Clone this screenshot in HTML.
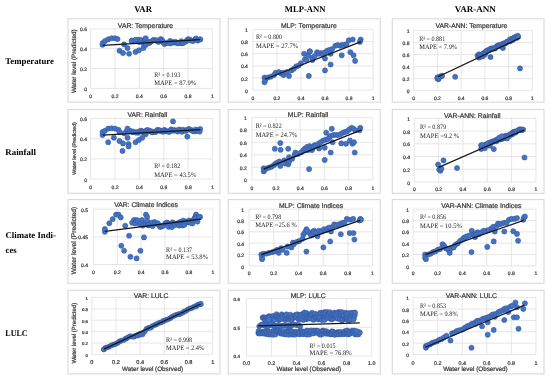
<!DOCTYPE html><html><head><meta charset="utf-8"><style>html,body{margin:0;padding:0;background:#fff;width:550px;height:379px;overflow:hidden}svg{display:block}text{text-rendering:geometricPrecision}.s{font-family:"Liberation Sans",Arial,sans-serif;fill:#303030;stroke:#404040;stroke-width:0.22px}.t{font-family:"Liberation Serif","Times New Roman",serif;fill:#1a1a1a;text-rendering:geometricPrecision}.h{font-family:"Liberation Serif","Times New Roman",serif;font-weight:bold;fill:#000;font-size:8.8px}</style></head><body>
<svg width="550" height="379" viewBox="0 0 550 379">
<text class="h" x="134.2" y="11.7" textLength="17.8" lengthAdjust="spacingAndGlyphs">VAR</text>
<text class="h" x="284.8" y="11.7" textLength="40.7" lengthAdjust="spacingAndGlyphs">MLP-ANN</text>
<text class="h" x="454.8" y="11.7" textLength="41.1" lengthAdjust="spacingAndGlyphs">VAR-ANN</text>
<text class="h" x="5.3" y="64.0" textLength="48.7" lengthAdjust="spacingAndGlyphs">Temperature</text>
<text class="h" x="5.3" y="154.7" textLength="30.6" lengthAdjust="spacingAndGlyphs">Rainfall</text>
<text class="h" x="5.5" y="237.8" textLength="50.5" lengthAdjust="spacingAndGlyphs">Climate Indi-</text>
<text class="h" x="5.5" y="252.7" textLength="11.2" lengthAdjust="spacingAndGlyphs">ces</text>
<text class="h" x="5.3" y="335.5" textLength="22.4" lengthAdjust="spacingAndGlyphs">LULC</text>
<rect x="68.0" y="18.8" width="151.9" height="83.4" fill="#fff" stroke="#d9d9d9" stroke-width="1.1"/>
<line x1="114.96" y1="28.80" x2="114.96" y2="88.40" stroke="#e0e0e0" stroke-width="0.8"/>
<line x1="139.32" y1="28.80" x2="139.32" y2="88.40" stroke="#e0e0e0" stroke-width="0.8"/>
<line x1="163.68" y1="28.80" x2="163.68" y2="88.40" stroke="#e0e0e0" stroke-width="0.8"/>
<line x1="188.04" y1="28.80" x2="188.04" y2="88.40" stroke="#e0e0e0" stroke-width="0.8"/>
<line x1="212.40" y1="28.80" x2="212.40" y2="88.40" stroke="#e0e0e0" stroke-width="0.8"/>
<line x1="90.60" y1="88.40" x2="212.40" y2="88.40" stroke="#e0e0e0" stroke-width="0.8"/>
<line x1="90.60" y1="68.53" x2="212.40" y2="68.53" stroke="#e0e0e0" stroke-width="0.8"/>
<line x1="90.60" y1="48.67" x2="212.40" y2="48.67" stroke="#e0e0e0" stroke-width="0.8"/>
<line x1="90.60" y1="28.80" x2="212.40" y2="28.80" stroke="#e0e0e0" stroke-width="0.8"/>
<line x1="90.60" y1="28.80" x2="90.60" y2="88.40" stroke="#e0e0e0" stroke-width="0.8"/>
<text class="s" x="87.00" y="91.00" font-size="5.0" text-anchor="end">0</text>
<text class="s" x="87.00" y="71.13" font-size="5.0" text-anchor="end">0.2</text>
<text class="s" x="87.00" y="51.27" font-size="5.0" text-anchor="end">0.4</text>
<text class="s" x="87.00" y="31.40" font-size="5.0" text-anchor="end">0.6</text>
<text class="s" x="90.60" y="98.20" font-size="5.0" text-anchor="middle">0</text>
<text class="s" x="114.96" y="98.20" font-size="5.0" text-anchor="middle">0.2</text>
<text class="s" x="139.32" y="98.20" font-size="5.0" text-anchor="middle">0.4</text>
<text class="s" x="163.68" y="98.20" font-size="5.0" text-anchor="middle">0.6</text>
<text class="s" x="188.04" y="98.20" font-size="5.0" text-anchor="middle">0.8</text>
<text class="s" x="212.40" y="98.20" font-size="5.0" text-anchor="middle">1</text>
<text class="s" x="145.50" y="27.60" font-size="6.8" text-anchor="middle" stroke="#595959" stroke-width="0.18">VAR: Temperature</text>
<g fill="#4472C4" stroke="#34599f" stroke-width="0.6">
<circle cx="131.6" cy="40.9" r="2.55"/>
<circle cx="133.8" cy="41.3" r="2.55"/>
<circle cx="134.8" cy="40.8" r="2.55"/>
<circle cx="135.9" cy="41.1" r="2.55"/>
<circle cx="138.2" cy="39.9" r="2.55"/>
<circle cx="139.0" cy="41.9" r="2.55"/>
<circle cx="140.5" cy="39.8" r="2.55"/>
<circle cx="143.0" cy="43.0" r="2.55"/>
<circle cx="145.0" cy="39.2" r="2.55"/>
<circle cx="146.1" cy="40.6" r="2.55"/>
<circle cx="147.0" cy="43.1" r="2.55"/>
<circle cx="149.1" cy="43.0" r="2.55"/>
<circle cx="150.2" cy="42.2" r="2.55"/>
<circle cx="151.5" cy="41.3" r="2.55"/>
<circle cx="153.7" cy="39.7" r="2.55"/>
<circle cx="155.4" cy="40.5" r="2.55"/>
<circle cx="156.9" cy="40.4" r="2.55"/>
<circle cx="158.5" cy="42.0" r="2.55"/>
<circle cx="160.8" cy="39.0" r="2.55"/>
<circle cx="162.2" cy="40.3" r="2.55"/>
<circle cx="163.0" cy="42.2" r="2.55"/>
<circle cx="164.5" cy="44.1" r="2.55"/>
<circle cx="166.8" cy="42.7" r="2.55"/>
<circle cx="168.5" cy="42.8" r="2.55"/>
<circle cx="170.2" cy="40.9" r="2.55"/>
<circle cx="170.4" cy="43.5" r="2.55"/>
<circle cx="173.3" cy="42.4" r="2.55"/>
<circle cx="175.0" cy="42.7" r="2.55"/>
<circle cx="175.3" cy="41.8" r="2.55"/>
<circle cx="177.9" cy="43.3" r="2.55"/>
<circle cx="178.5" cy="43.0" r="2.55"/>
<circle cx="181.3" cy="41.2" r="2.55"/>
<circle cx="181.7" cy="43.4" r="2.55"/>
<circle cx="183.2" cy="43.0" r="2.55"/>
<circle cx="185.8" cy="41.5" r="2.55"/>
<circle cx="187.1" cy="40.3" r="2.55"/>
<circle cx="188.1" cy="39.2" r="2.55"/>
<circle cx="189.6" cy="39.5" r="2.55"/>
<circle cx="191.1" cy="40.5" r="2.55"/>
<circle cx="192.9" cy="41.1" r="2.55"/>
<circle cx="195.6" cy="38.9" r="2.55"/>
<circle cx="196.2" cy="38.5" r="2.55"/>
<circle cx="197.6" cy="40.6" r="2.55"/>
<circle cx="200.1" cy="39.5" r="2.55"/>
<circle cx="102.5" cy="44.8" r="2.55"/>
<circle cx="102.7" cy="43.0" r="2.55"/>
<circle cx="105.0" cy="41.0" r="2.55"/>
<circle cx="108.2" cy="39.4" r="2.55"/>
<circle cx="111.6" cy="38.2" r="2.55"/>
<circle cx="115.0" cy="38.2" r="2.55"/>
<circle cx="117.5" cy="39.1" r="2.55"/>
<circle cx="124.1" cy="44.4" r="2.55"/>
<circle cx="127.5" cy="48.0" r="2.55"/>
<circle cx="119.5" cy="50.7" r="2.55"/>
<circle cx="123.0" cy="53.0" r="2.55"/>
<circle cx="129.1" cy="53.7" r="2.55"/>
<circle cx="135.5" cy="51.9" r="2.55"/>
<circle cx="138.9" cy="50.3" r="2.55"/>
<circle cx="143.4" cy="48.0" r="2.55"/>
<circle cx="145.7" cy="45.0" r="2.55"/>
<circle cx="200.2" cy="39.4" r="2.55"/>
<circle cx="132.0" cy="40.5" r="2.55"/>
<circle cx="135.5" cy="39.8" r="2.55"/>
<circle cx="145.7" cy="38.2" r="2.55"/>
</g>
<line x1="102.78" y1="45.49" x2="200.22" y2="39.73" stroke="#151515" stroke-width="1.25"/>
<text class="t" x="154.20" y="76.60" font-size="6.8" textLength="26" lengthAdjust="spacingAndGlyphs">R² = 0.193</text>
<text class="t" x="154.20" y="85.00" font-size="6.8" textLength="42.0" lengthAdjust="spacingAndGlyphs">MAPE = 87.9%</text>
<text class="s" transform="translate(73.70,61.20) rotate(-90)" font-size="6.3" text-anchor="middle" dy="2.27">Water level (Predicted)</text>
<rect x="228.2" y="18.8" width="152.0" height="83.4" fill="#fff" stroke="#d9d9d9" stroke-width="1.1"/>
<line x1="276.94" y1="29.40" x2="276.94" y2="90.20" stroke="#e0e0e0" stroke-width="0.8"/>
<line x1="300.98" y1="29.40" x2="300.98" y2="90.20" stroke="#e0e0e0" stroke-width="0.8"/>
<line x1="325.02" y1="29.40" x2="325.02" y2="90.20" stroke="#e0e0e0" stroke-width="0.8"/>
<line x1="349.06" y1="29.40" x2="349.06" y2="90.20" stroke="#e0e0e0" stroke-width="0.8"/>
<line x1="373.10" y1="29.40" x2="373.10" y2="90.20" stroke="#e0e0e0" stroke-width="0.8"/>
<line x1="252.90" y1="90.20" x2="373.10" y2="90.20" stroke="#e0e0e0" stroke-width="0.8"/>
<line x1="252.90" y1="78.04" x2="373.10" y2="78.04" stroke="#e0e0e0" stroke-width="0.8"/>
<line x1="252.90" y1="65.88" x2="373.10" y2="65.88" stroke="#e0e0e0" stroke-width="0.8"/>
<line x1="252.90" y1="53.72" x2="373.10" y2="53.72" stroke="#e0e0e0" stroke-width="0.8"/>
<line x1="252.90" y1="41.56" x2="373.10" y2="41.56" stroke="#e0e0e0" stroke-width="0.8"/>
<line x1="252.90" y1="29.40" x2="373.10" y2="29.40" stroke="#e0e0e0" stroke-width="0.8"/>
<line x1="252.90" y1="29.40" x2="252.90" y2="90.20" stroke="#e0e0e0" stroke-width="0.8"/>
<text class="s" x="247.90" y="92.80" font-size="5.0" text-anchor="end">0</text>
<text class="s" x="247.90" y="80.64" font-size="5.0" text-anchor="end">0.2</text>
<text class="s" x="247.90" y="68.48" font-size="5.0" text-anchor="end">0.4</text>
<text class="s" x="247.90" y="56.32" font-size="5.0" text-anchor="end">0.6</text>
<text class="s" x="247.90" y="44.16" font-size="5.0" text-anchor="end">0.8</text>
<text class="s" x="247.90" y="32.00" font-size="5.0" text-anchor="end">1</text>
<text class="s" x="252.90" y="99.60" font-size="5.0" text-anchor="middle">0</text>
<text class="s" x="276.94" y="99.60" font-size="5.0" text-anchor="middle">0.2</text>
<text class="s" x="300.98" y="99.60" font-size="5.0" text-anchor="middle">0.4</text>
<text class="s" x="325.02" y="99.60" font-size="5.0" text-anchor="middle">0.6</text>
<text class="s" x="349.06" y="99.60" font-size="5.0" text-anchor="middle">0.8</text>
<text class="s" x="373.10" y="99.60" font-size="5.0" text-anchor="middle">1</text>
<text class="s" x="308.80" y="27.60" font-size="6.8" text-anchor="middle" stroke="#595959" stroke-width="0.18">MLP: Temperature</text>
<g fill="#4472C4" stroke="#34599f" stroke-width="0.6">
<circle cx="264.5" cy="77.5" r="2.55"/>
<circle cx="264.5" cy="82.2" r="2.55"/>
<circle cx="265.3" cy="79.9" r="2.55"/>
<circle cx="267.7" cy="77.5" r="2.55"/>
<circle cx="270.8" cy="76.7" r="2.55"/>
<circle cx="275.6" cy="72.7" r="2.55"/>
<circle cx="278.7" cy="72.0" r="2.55"/>
<circle cx="281.1" cy="73.5" r="2.55"/>
<circle cx="283.5" cy="75.1" r="2.55"/>
<circle cx="282.7" cy="72.7" r="2.55"/>
<circle cx="286.7" cy="72.0" r="2.55"/>
<circle cx="289.0" cy="75.9" r="2.55"/>
<circle cx="291.4" cy="70.4" r="2.55"/>
<circle cx="293.8" cy="68.8" r="2.55"/>
<circle cx="296.2" cy="66.4" r="2.55"/>
<circle cx="300.9" cy="63.2" r="2.55"/>
<circle cx="304.1" cy="53.7" r="2.55"/>
<circle cx="304.9" cy="59.3" r="2.55"/>
<circle cx="306.4" cy="60.1" r="2.55"/>
<circle cx="308.0" cy="55.3" r="2.55"/>
<circle cx="309.6" cy="51.4" r="2.55"/>
<circle cx="308.8" cy="75.9" r="2.55"/>
<circle cx="312.0" cy="57.7" r="2.55"/>
<circle cx="298.5" cy="65.6" r="2.55"/>
<circle cx="274.0" cy="75.1" r="2.55"/>
<circle cx="310.0" cy="51.4" r="2.55"/>
<circle cx="312.4" cy="60.1" r="2.55"/>
<circle cx="317.1" cy="52.2" r="2.55"/>
<circle cx="318.7" cy="53.7" r="2.55"/>
<circle cx="321.1" cy="53.0" r="2.55"/>
<circle cx="322.7" cy="54.5" r="2.55"/>
<circle cx="325.0" cy="52.2" r="2.55"/>
<circle cx="327.4" cy="50.6" r="2.55"/>
<circle cx="329.8" cy="49.8" r="2.55"/>
<circle cx="330.6" cy="53.7" r="2.55"/>
<circle cx="332.2" cy="49.0" r="2.55"/>
<circle cx="335.3" cy="45.8" r="2.55"/>
<circle cx="337.7" cy="45.0" r="2.55"/>
<circle cx="340.1" cy="45.8" r="2.55"/>
<circle cx="341.7" cy="45.0" r="2.55"/>
<circle cx="344.0" cy="45.0" r="2.55"/>
<circle cx="346.4" cy="44.2" r="2.55"/>
<circle cx="325.0" cy="58.5" r="2.55"/>
<circle cx="325.0" cy="70.4" r="2.55"/>
<circle cx="330.6" cy="64.5" r="2.55"/>
<circle cx="341.7" cy="55.3" r="2.55"/>
<circle cx="348.8" cy="40.3" r="2.55"/>
<circle cx="350.4" cy="52.2" r="2.55"/>
<circle cx="353.5" cy="55.3" r="2.55"/>
<circle cx="355.1" cy="60.9" r="2.55"/>
<circle cx="352.7" cy="39.5" r="2.55"/>
<circle cx="360.7" cy="39.5" r="2.55"/>
<circle cx="359.9" cy="41.9" r="2.55"/>
<circle cx="314.7" cy="56.1" r="2.55"/>
</g>
<line x1="264.92" y1="79.26" x2="361.08" y2="41.56" stroke="#151515" stroke-width="1.25"/>
<text class="t" x="256.00" y="39.30" font-size="6.8" textLength="26" lengthAdjust="spacingAndGlyphs">R² = 0.800</text>
<text class="t" x="256.00" y="47.90" font-size="6.8" textLength="42.3" lengthAdjust="spacingAndGlyphs">MAPE = 27.7%</text>
<rect x="392.3" y="18.8" width="151.7" height="83.4" fill="#fff" stroke="#d9d9d9" stroke-width="1.1"/>
<line x1="437.36" y1="30.60" x2="437.36" y2="90.60" stroke="#e0e0e0" stroke-width="0.8"/>
<line x1="461.12" y1="30.60" x2="461.12" y2="90.60" stroke="#e0e0e0" stroke-width="0.8"/>
<line x1="484.88" y1="30.60" x2="484.88" y2="90.60" stroke="#e0e0e0" stroke-width="0.8"/>
<line x1="508.64" y1="30.60" x2="508.64" y2="90.60" stroke="#e0e0e0" stroke-width="0.8"/>
<line x1="532.40" y1="30.60" x2="532.40" y2="90.60" stroke="#e0e0e0" stroke-width="0.8"/>
<line x1="413.60" y1="90.60" x2="532.40" y2="90.60" stroke="#e0e0e0" stroke-width="0.8"/>
<line x1="413.60" y1="78.60" x2="532.40" y2="78.60" stroke="#e0e0e0" stroke-width="0.8"/>
<line x1="413.60" y1="66.60" x2="532.40" y2="66.60" stroke="#e0e0e0" stroke-width="0.8"/>
<line x1="413.60" y1="54.60" x2="532.40" y2="54.60" stroke="#e0e0e0" stroke-width="0.8"/>
<line x1="413.60" y1="42.60" x2="532.40" y2="42.60" stroke="#e0e0e0" stroke-width="0.8"/>
<line x1="413.60" y1="30.60" x2="532.40" y2="30.60" stroke="#e0e0e0" stroke-width="0.8"/>
<line x1="413.60" y1="30.60" x2="413.60" y2="90.60" stroke="#e0e0e0" stroke-width="0.8"/>
<text class="s" x="409.50" y="93.20" font-size="5.0" text-anchor="end">0</text>
<text class="s" x="409.50" y="81.20" font-size="5.0" text-anchor="end">0.2</text>
<text class="s" x="409.50" y="69.20" font-size="5.0" text-anchor="end">0.4</text>
<text class="s" x="409.50" y="57.20" font-size="5.0" text-anchor="end">0.6</text>
<text class="s" x="409.50" y="45.20" font-size="5.0" text-anchor="end">0.8</text>
<text class="s" x="409.50" y="33.20" font-size="5.0" text-anchor="end">1</text>
<text class="s" x="413.60" y="99.80" font-size="5.0" text-anchor="middle">0</text>
<text class="s" x="437.36" y="99.80" font-size="5.0" text-anchor="middle">0.2</text>
<text class="s" x="461.12" y="99.80" font-size="5.0" text-anchor="middle">0.4</text>
<text class="s" x="484.88" y="99.80" font-size="5.0" text-anchor="middle">0.6</text>
<text class="s" x="508.64" y="99.80" font-size="5.0" text-anchor="middle">0.8</text>
<text class="s" x="532.40" y="99.80" font-size="5.0" text-anchor="middle">1</text>
<text class="s" x="471.40" y="27.60" font-size="6.8" text-anchor="middle" stroke="#595959" stroke-width="0.18">VAR-ANN: Temperature</text>
<g fill="#4472C4" stroke="#34599f" stroke-width="0.6">
<circle cx="477.5" cy="55.5" r="2.55"/>
<circle cx="479.0" cy="54.4" r="2.55"/>
<circle cx="479.5" cy="55.6" r="2.55"/>
<circle cx="480.4" cy="55.2" r="2.55"/>
<circle cx="482.2" cy="54.6" r="2.55"/>
<circle cx="483.0" cy="54.0" r="2.55"/>
<circle cx="483.7" cy="53.1" r="2.55"/>
<circle cx="485.4" cy="51.9" r="2.55"/>
<circle cx="485.5" cy="52.7" r="2.55"/>
<circle cx="486.7" cy="50.7" r="2.55"/>
<circle cx="488.5" cy="50.0" r="2.55"/>
<circle cx="489.5" cy="49.6" r="2.55"/>
<circle cx="490.7" cy="48.9" r="2.55"/>
<circle cx="490.9" cy="48.7" r="2.55"/>
<circle cx="492.2" cy="48.3" r="2.55"/>
<circle cx="493.4" cy="48.6" r="2.55"/>
<circle cx="494.2" cy="48.2" r="2.55"/>
<circle cx="495.1" cy="48.5" r="2.55"/>
<circle cx="496.8" cy="46.1" r="2.55"/>
<circle cx="498.0" cy="45.7" r="2.55"/>
<circle cx="498.5" cy="45.3" r="2.55"/>
<circle cx="499.1" cy="45.3" r="2.55"/>
<circle cx="500.5" cy="45.8" r="2.55"/>
<circle cx="501.2" cy="44.6" r="2.55"/>
<circle cx="502.3" cy="44.2" r="2.55"/>
<circle cx="503.8" cy="43.7" r="2.55"/>
<circle cx="504.2" cy="43.2" r="2.55"/>
<circle cx="505.4" cy="43.3" r="2.55"/>
<circle cx="506.4" cy="42.5" r="2.55"/>
<circle cx="507.3" cy="41.4" r="2.55"/>
<circle cx="509.4" cy="41.1" r="2.55"/>
<circle cx="510.1" cy="39.4" r="2.55"/>
<circle cx="510.4" cy="41.2" r="2.55"/>
<circle cx="512.3" cy="38.6" r="2.55"/>
<circle cx="513.1" cy="39.8" r="2.55"/>
<circle cx="513.9" cy="37.8" r="2.55"/>
<circle cx="515.5" cy="37.2" r="2.55"/>
<circle cx="515.7" cy="36.9" r="2.55"/>
<circle cx="517.0" cy="36.7" r="2.55"/>
<circle cx="517.7" cy="35.7" r="2.55"/>
<circle cx="437.4" cy="78.6" r="2.55"/>
<circle cx="437.4" cy="77.4" r="2.55"/>
<circle cx="438.5" cy="79.2" r="2.55"/>
<circle cx="439.7" cy="76.8" r="2.55"/>
<circle cx="440.9" cy="76.2" r="2.55"/>
<circle cx="442.1" cy="75.9" r="2.55"/>
<circle cx="438.5" cy="78.0" r="2.55"/>
<circle cx="455.2" cy="76.8" r="2.55"/>
<circle cx="490.5" cy="57.0" r="2.55"/>
<circle cx="502.9" cy="48.0" r="2.55"/>
<circle cx="520.0" cy="68.4" r="2.55"/>
<circle cx="478.9" cy="57.6" r="2.55"/>
<circle cx="480.1" cy="57.0" r="2.55"/>
<circle cx="482.5" cy="56.4" r="2.55"/>
<circle cx="484.9" cy="54.6" r="2.55"/>
<circle cx="517.0" cy="37.8" r="2.55"/>
<circle cx="518.1" cy="36.6" r="2.55"/>
</g>
<line x1="438.07" y1="76.80" x2="520.52" y2="37.80" stroke="#151515" stroke-width="1.25"/>
<text class="t" x="419.20" y="40.50" font-size="6.8" textLength="26" lengthAdjust="spacingAndGlyphs">R² = 0.881</text>
<text class="t" x="419.20" y="49.20" font-size="6.8" textLength="38.0" lengthAdjust="spacingAndGlyphs">MAPE = 7.9%</text>
<rect x="68.0" y="109.5" width="151.9" height="83.8" fill="#fff" stroke="#d9d9d9" stroke-width="1.1"/>
<line x1="115.00" y1="118.40" x2="115.00" y2="179.10" stroke="#e0e0e0" stroke-width="0.8"/>
<line x1="139.40" y1="118.40" x2="139.40" y2="179.10" stroke="#e0e0e0" stroke-width="0.8"/>
<line x1="163.80" y1="118.40" x2="163.80" y2="179.10" stroke="#e0e0e0" stroke-width="0.8"/>
<line x1="188.20" y1="118.40" x2="188.20" y2="179.10" stroke="#e0e0e0" stroke-width="0.8"/>
<line x1="212.60" y1="118.40" x2="212.60" y2="179.10" stroke="#e0e0e0" stroke-width="0.8"/>
<line x1="90.60" y1="179.10" x2="212.60" y2="179.10" stroke="#e0e0e0" stroke-width="0.8"/>
<line x1="90.60" y1="158.87" x2="212.60" y2="158.87" stroke="#e0e0e0" stroke-width="0.8"/>
<line x1="90.60" y1="138.63" x2="212.60" y2="138.63" stroke="#e0e0e0" stroke-width="0.8"/>
<line x1="90.60" y1="118.40" x2="212.60" y2="118.40" stroke="#e0e0e0" stroke-width="0.8"/>
<line x1="90.60" y1="118.40" x2="90.60" y2="179.10" stroke="#e0e0e0" stroke-width="0.8"/>
<text class="s" x="87.00" y="181.70" font-size="5.0" text-anchor="end">0</text>
<text class="s" x="87.00" y="161.47" font-size="5.0" text-anchor="end">0.2</text>
<text class="s" x="87.00" y="141.23" font-size="5.0" text-anchor="end">0.4</text>
<text class="s" x="87.00" y="121.00" font-size="5.0" text-anchor="end">0.6</text>
<text class="s" x="90.60" y="189.20" font-size="5.0" text-anchor="middle">0</text>
<text class="s" x="115.00" y="189.20" font-size="5.0" text-anchor="middle">0.2</text>
<text class="s" x="139.40" y="189.20" font-size="5.0" text-anchor="middle">0.4</text>
<text class="s" x="163.80" y="189.20" font-size="5.0" text-anchor="middle">0.6</text>
<text class="s" x="188.20" y="189.20" font-size="5.0" text-anchor="middle">0.8</text>
<text class="s" x="212.60" y="189.20" font-size="5.0" text-anchor="middle">1</text>
<text class="s" x="147.40" y="117.30" font-size="6.8" text-anchor="middle" stroke="#595959" stroke-width="0.18">VAR: Rainfall</text>
<g fill="#4472C4" stroke="#34599f" stroke-width="0.6">
<circle cx="126.8" cy="131.0" r="2.55"/>
<circle cx="128.8" cy="131.6" r="2.55"/>
<circle cx="129.7" cy="130.7" r="2.55"/>
<circle cx="131.8" cy="131.4" r="2.55"/>
<circle cx="132.9" cy="132.2" r="2.55"/>
<circle cx="133.7" cy="131.8" r="2.55"/>
<circle cx="135.8" cy="132.6" r="2.55"/>
<circle cx="137.4" cy="132.1" r="2.55"/>
<circle cx="138.2" cy="132.7" r="2.55"/>
<circle cx="140.5" cy="130.7" r="2.55"/>
<circle cx="141.8" cy="131.0" r="2.55"/>
<circle cx="142.2" cy="131.8" r="2.55"/>
<circle cx="144.1" cy="132.4" r="2.55"/>
<circle cx="146.1" cy="131.6" r="2.55"/>
<circle cx="146.5" cy="130.3" r="2.55"/>
<circle cx="147.9" cy="130.0" r="2.55"/>
<circle cx="149.7" cy="131.0" r="2.55"/>
<circle cx="151.0" cy="131.2" r="2.55"/>
<circle cx="152.2" cy="132.4" r="2.55"/>
<circle cx="154.5" cy="131.9" r="2.55"/>
<circle cx="155.8" cy="131.9" r="2.55"/>
<circle cx="157.4" cy="129.9" r="2.55"/>
<circle cx="158.6" cy="130.3" r="2.55"/>
<circle cx="159.8" cy="130.4" r="2.55"/>
<circle cx="160.6" cy="131.1" r="2.55"/>
<circle cx="162.9" cy="131.8" r="2.55"/>
<circle cx="164.4" cy="129.8" r="2.55"/>
<circle cx="165.2" cy="131.3" r="2.55"/>
<circle cx="166.7" cy="131.2" r="2.55"/>
<circle cx="168.7" cy="131.2" r="2.55"/>
<circle cx="169.0" cy="132.0" r="2.55"/>
<circle cx="171.2" cy="129.4" r="2.55"/>
<circle cx="172.4" cy="130.8" r="2.55"/>
<circle cx="173.8" cy="130.1" r="2.55"/>
<circle cx="174.8" cy="130.5" r="2.55"/>
<circle cx="176.7" cy="130.4" r="2.55"/>
<circle cx="177.6" cy="131.6" r="2.55"/>
<circle cx="179.2" cy="129.5" r="2.55"/>
<circle cx="180.6" cy="130.4" r="2.55"/>
<circle cx="182.0" cy="131.8" r="2.55"/>
<circle cx="183.1" cy="129.7" r="2.55"/>
<circle cx="185.4" cy="130.9" r="2.55"/>
<circle cx="186.7" cy="130.1" r="2.55"/>
<circle cx="188.4" cy="129.2" r="2.55"/>
<circle cx="189.2" cy="129.1" r="2.55"/>
<circle cx="191.3" cy="130.2" r="2.55"/>
<circle cx="192.6" cy="130.5" r="2.55"/>
<circle cx="193.4" cy="131.2" r="2.55"/>
<circle cx="195.4" cy="131.4" r="2.55"/>
<circle cx="195.8" cy="129.5" r="2.55"/>
<circle cx="198.1" cy="130.4" r="2.55"/>
<circle cx="199.6" cy="131.6" r="2.55"/>
<circle cx="102.5" cy="135.0" r="2.55"/>
<circle cx="102.5" cy="132.0" r="2.55"/>
<circle cx="104.8" cy="130.9" r="2.55"/>
<circle cx="108.2" cy="128.6" r="2.55"/>
<circle cx="111.6" cy="128.2" r="2.55"/>
<circle cx="115.0" cy="128.6" r="2.55"/>
<circle cx="118.4" cy="129.8" r="2.55"/>
<circle cx="119.5" cy="132.0" r="2.55"/>
<circle cx="108.2" cy="142.3" r="2.55"/>
<circle cx="113.9" cy="137.7" r="2.55"/>
<circle cx="119.5" cy="141.1" r="2.55"/>
<circle cx="123.0" cy="143.4" r="2.55"/>
<circle cx="122.5" cy="150.9" r="2.55"/>
<circle cx="124.1" cy="133.2" r="2.55"/>
<circle cx="127.5" cy="137.7" r="2.55"/>
<circle cx="128.6" cy="144.1" r="2.55"/>
<circle cx="128.6" cy="146.4" r="2.55"/>
<circle cx="127.5" cy="128.6" r="2.55"/>
<circle cx="135.5" cy="142.3" r="2.55"/>
<circle cx="138.9" cy="140.0" r="2.55"/>
<circle cx="142.3" cy="137.7" r="2.55"/>
<circle cx="145.7" cy="134.3" r="2.55"/>
<circle cx="173.0" cy="121.4" r="2.55"/>
<circle cx="187.3" cy="136.6" r="2.55"/>
<circle cx="200.2" cy="129.1" r="2.55"/>
</g>
<line x1="102.80" y1="135.19" x2="200.40" y2="129.53" stroke="#151515" stroke-width="1.25"/>
<text class="t" x="154.20" y="167.80" font-size="6.8" textLength="26" lengthAdjust="spacingAndGlyphs">R² = 0.182</text>
<text class="t" x="154.20" y="176.70" font-size="6.8" textLength="42.2" lengthAdjust="spacingAndGlyphs">MAPE = 43.5%</text>
<text class="s" transform="translate(74.20,148.50) rotate(-90)" font-size="5.2" text-anchor="middle" dy="1.87">Water level (Predicted)</text>
<rect x="228.2" y="109.5" width="152.0" height="83.8" fill="#fff" stroke="#d9d9d9" stroke-width="1.1"/>
<line x1="276.00" y1="117.40" x2="276.00" y2="179.80" stroke="#e0e0e0" stroke-width="0.8"/>
<line x1="300.20" y1="117.40" x2="300.20" y2="179.80" stroke="#e0e0e0" stroke-width="0.8"/>
<line x1="324.40" y1="117.40" x2="324.40" y2="179.80" stroke="#e0e0e0" stroke-width="0.8"/>
<line x1="348.60" y1="117.40" x2="348.60" y2="179.80" stroke="#e0e0e0" stroke-width="0.8"/>
<line x1="372.80" y1="117.40" x2="372.80" y2="179.80" stroke="#e0e0e0" stroke-width="0.8"/>
<line x1="251.80" y1="179.80" x2="372.80" y2="179.80" stroke="#e0e0e0" stroke-width="0.8"/>
<line x1="251.80" y1="167.32" x2="372.80" y2="167.32" stroke="#e0e0e0" stroke-width="0.8"/>
<line x1="251.80" y1="154.84" x2="372.80" y2="154.84" stroke="#e0e0e0" stroke-width="0.8"/>
<line x1="251.80" y1="142.36" x2="372.80" y2="142.36" stroke="#e0e0e0" stroke-width="0.8"/>
<line x1="251.80" y1="129.88" x2="372.80" y2="129.88" stroke="#e0e0e0" stroke-width="0.8"/>
<line x1="251.80" y1="117.40" x2="372.80" y2="117.40" stroke="#e0e0e0" stroke-width="0.8"/>
<line x1="251.80" y1="117.40" x2="251.80" y2="179.80" stroke="#e0e0e0" stroke-width="0.8"/>
<text class="s" x="246.80" y="182.40" font-size="5.0" text-anchor="end">0</text>
<text class="s" x="246.80" y="169.92" font-size="5.0" text-anchor="end">0.2</text>
<text class="s" x="246.80" y="157.44" font-size="5.0" text-anchor="end">0.4</text>
<text class="s" x="246.80" y="144.96" font-size="5.0" text-anchor="end">0.6</text>
<text class="s" x="246.80" y="132.48" font-size="5.0" text-anchor="end">0.8</text>
<text class="s" x="246.80" y="120.00" font-size="5.0" text-anchor="end">1</text>
<text class="s" x="251.80" y="190.40" font-size="5.0" text-anchor="middle">0</text>
<text class="s" x="276.00" y="190.40" font-size="5.0" text-anchor="middle">0.2</text>
<text class="s" x="300.20" y="190.40" font-size="5.0" text-anchor="middle">0.4</text>
<text class="s" x="324.40" y="190.40" font-size="5.0" text-anchor="middle">0.6</text>
<text class="s" x="348.60" y="190.40" font-size="5.0" text-anchor="middle">0.8</text>
<text class="s" x="372.80" y="190.40" font-size="5.0" text-anchor="middle">1</text>
<text class="s" x="308.00" y="117.30" font-size="6.8" text-anchor="middle" stroke="#595959" stroke-width="0.18">MLP: Rainfall</text>
<g fill="#4472C4" stroke="#34599f" stroke-width="0.6">
<circle cx="263.7" cy="168.3" r="2.55"/>
<circle cx="263.7" cy="171.4" r="2.55"/>
<circle cx="264.8" cy="169.9" r="2.55"/>
<circle cx="266.9" cy="168.3" r="2.55"/>
<circle cx="269.2" cy="167.5" r="2.55"/>
<circle cx="271.6" cy="166.7" r="2.55"/>
<circle cx="274.0" cy="165.1" r="2.55"/>
<circle cx="275.6" cy="163.5" r="2.55"/>
<circle cx="278.0" cy="162.4" r="2.55"/>
<circle cx="279.5" cy="161.5" r="2.55"/>
<circle cx="280.3" cy="165.9" r="2.55"/>
<circle cx="284.3" cy="160.4" r="2.55"/>
<circle cx="285.1" cy="163.5" r="2.55"/>
<circle cx="288.2" cy="164.3" r="2.55"/>
<circle cx="289.0" cy="162.0" r="2.55"/>
<circle cx="289.0" cy="157.2" r="2.55"/>
<circle cx="292.2" cy="158.8" r="2.55"/>
<circle cx="294.6" cy="154.8" r="2.55"/>
<circle cx="295.4" cy="152.5" r="2.55"/>
<circle cx="297.7" cy="154.0" r="2.55"/>
<circle cx="300.9" cy="152.5" r="2.55"/>
<circle cx="303.3" cy="150.1" r="2.55"/>
<circle cx="304.9" cy="148.5" r="2.55"/>
<circle cx="307.2" cy="146.9" r="2.55"/>
<circle cx="309.6" cy="146.1" r="2.55"/>
<circle cx="312.0" cy="147.7" r="2.55"/>
<circle cx="314.4" cy="145.3" r="2.55"/>
<circle cx="308.0" cy="150.1" r="2.55"/>
<circle cx="280.3" cy="143.0" r="2.55"/>
<circle cx="274.8" cy="148.8" r="2.55"/>
<circle cx="280.6" cy="149.8" r="2.55"/>
<circle cx="288.2" cy="148.8" r="2.55"/>
<circle cx="309.1" cy="169.1" r="2.55"/>
<circle cx="312.0" cy="150.1" r="2.55"/>
<circle cx="313.6" cy="146.9" r="2.55"/>
<circle cx="316.0" cy="145.3" r="2.55"/>
<circle cx="318.3" cy="143.7" r="2.55"/>
<circle cx="319.1" cy="148.5" r="2.55"/>
<circle cx="320.7" cy="142.2" r="2.55"/>
<circle cx="323.1" cy="140.6" r="2.55"/>
<circle cx="324.7" cy="147.7" r="2.55"/>
<circle cx="325.5" cy="139.8" r="2.55"/>
<circle cx="326.2" cy="132.7" r="2.55"/>
<circle cx="327.8" cy="139.0" r="2.55"/>
<circle cx="329.4" cy="137.4" r="2.55"/>
<circle cx="331.0" cy="135.8" r="2.55"/>
<circle cx="331.8" cy="128.7" r="2.55"/>
<circle cx="332.6" cy="142.2" r="2.55"/>
<circle cx="333.4" cy="135.0" r="2.55"/>
<circle cx="335.7" cy="135.0" r="2.55"/>
<circle cx="338.1" cy="135.0" r="2.55"/>
<circle cx="340.5" cy="134.2" r="2.55"/>
<circle cx="342.9" cy="132.7" r="2.55"/>
<circle cx="345.2" cy="131.9" r="2.55"/>
<circle cx="347.6" cy="131.1" r="2.55"/>
<circle cx="349.2" cy="129.5" r="2.55"/>
<circle cx="351.6" cy="127.9" r="2.55"/>
<circle cx="353.5" cy="128.7" r="2.55"/>
<circle cx="355.5" cy="130.3" r="2.55"/>
<circle cx="360.3" cy="127.9" r="2.55"/>
<circle cx="359.5" cy="130.3" r="2.55"/>
<circle cx="324.7" cy="159.9" r="2.55"/>
<circle cx="330.7" cy="152.5" r="2.55"/>
<circle cx="341.3" cy="143.4" r="2.55"/>
<circle cx="346.0" cy="143.7" r="2.55"/>
<circle cx="350.0" cy="140.6" r="2.55"/>
<circle cx="352.4" cy="143.7" r="2.55"/>
<circle cx="354.0" cy="142.2" r="2.55"/>
<circle cx="354.7" cy="152.5" r="2.55"/>
</g>
<line x1="263.66" y1="169.19" x2="361.43" y2="129.88" stroke="#151515" stroke-width="1.25"/>
<text class="t" x="255.70" y="128.00" font-size="6.8" textLength="26" lengthAdjust="spacingAndGlyphs">R² = 0.822</text>
<text class="t" x="255.70" y="136.90" font-size="6.8" textLength="41.6" lengthAdjust="spacingAndGlyphs">MAPE = 24.7%</text>
<rect x="392.3" y="109.5" width="151.7" height="83.8" fill="#fff" stroke="#d9d9d9" stroke-width="1.1"/>
<line x1="438.62" y1="118.40" x2="438.62" y2="182.00" stroke="#e0e0e0" stroke-width="0.8"/>
<line x1="462.94" y1="118.40" x2="462.94" y2="182.00" stroke="#e0e0e0" stroke-width="0.8"/>
<line x1="487.26" y1="118.40" x2="487.26" y2="182.00" stroke="#e0e0e0" stroke-width="0.8"/>
<line x1="511.58" y1="118.40" x2="511.58" y2="182.00" stroke="#e0e0e0" stroke-width="0.8"/>
<line x1="535.90" y1="118.40" x2="535.90" y2="182.00" stroke="#e0e0e0" stroke-width="0.8"/>
<line x1="414.30" y1="182.00" x2="535.90" y2="182.00" stroke="#e0e0e0" stroke-width="0.8"/>
<line x1="414.30" y1="169.28" x2="535.90" y2="169.28" stroke="#e0e0e0" stroke-width="0.8"/>
<line x1="414.30" y1="156.56" x2="535.90" y2="156.56" stroke="#e0e0e0" stroke-width="0.8"/>
<line x1="414.30" y1="143.84" x2="535.90" y2="143.84" stroke="#e0e0e0" stroke-width="0.8"/>
<line x1="414.30" y1="131.12" x2="535.90" y2="131.12" stroke="#e0e0e0" stroke-width="0.8"/>
<line x1="414.30" y1="118.40" x2="535.90" y2="118.40" stroke="#e0e0e0" stroke-width="0.8"/>
<line x1="414.30" y1="118.40" x2="414.30" y2="182.00" stroke="#e0e0e0" stroke-width="0.8"/>
<text class="s" x="410.00" y="184.60" font-size="5.0" text-anchor="end">0</text>
<text class="s" x="410.00" y="171.88" font-size="5.0" text-anchor="end">0.2</text>
<text class="s" x="410.00" y="159.16" font-size="5.0" text-anchor="end">0.4</text>
<text class="s" x="410.00" y="146.44" font-size="5.0" text-anchor="end">0.6</text>
<text class="s" x="410.00" y="133.72" font-size="5.0" text-anchor="end">0.8</text>
<text class="s" x="410.00" y="121.00" font-size="5.0" text-anchor="end">1</text>
<text class="s" x="414.30" y="190.60" font-size="5.0" text-anchor="middle">0</text>
<text class="s" x="438.62" y="190.60" font-size="5.0" text-anchor="middle">0.2</text>
<text class="s" x="462.94" y="190.60" font-size="5.0" text-anchor="middle">0.4</text>
<text class="s" x="487.26" y="190.60" font-size="5.0" text-anchor="middle">0.6</text>
<text class="s" x="511.58" y="190.60" font-size="5.0" text-anchor="middle">0.8</text>
<text class="s" x="535.90" y="190.60" font-size="5.0" text-anchor="middle">1</text>
<text class="s" x="472.20" y="117.80" font-size="6.8" text-anchor="middle" stroke="#595959" stroke-width="0.18">VAR-ANN: Rainfall</text>
<g fill="#4472C4" stroke="#34599f" stroke-width="0.6">
<circle cx="481.1" cy="145.3" r="2.55"/>
<circle cx="482.1" cy="147.1" r="2.55"/>
<circle cx="482.8" cy="146.0" r="2.55"/>
<circle cx="483.8" cy="146.3" r="2.55"/>
<circle cx="484.5" cy="145.2" r="2.55"/>
<circle cx="485.6" cy="144.7" r="2.55"/>
<circle cx="486.4" cy="145.3" r="2.55"/>
<circle cx="488.4" cy="143.7" r="2.55"/>
<circle cx="489.2" cy="142.6" r="2.55"/>
<circle cx="490.1" cy="143.9" r="2.55"/>
<circle cx="491.7" cy="141.9" r="2.55"/>
<circle cx="492.6" cy="141.5" r="2.55"/>
<circle cx="494.1" cy="141.5" r="2.55"/>
<circle cx="494.9" cy="141.2" r="2.55"/>
<circle cx="495.7" cy="140.1" r="2.55"/>
<circle cx="496.5" cy="141.2" r="2.55"/>
<circle cx="497.8" cy="139.1" r="2.55"/>
<circle cx="499.0" cy="139.3" r="2.55"/>
<circle cx="500.1" cy="139.5" r="2.55"/>
<circle cx="500.6" cy="139.0" r="2.55"/>
<circle cx="502.5" cy="138.5" r="2.55"/>
<circle cx="502.7" cy="138.7" r="2.55"/>
<circle cx="503.7" cy="137.8" r="2.55"/>
<circle cx="505.4" cy="135.7" r="2.55"/>
<circle cx="506.2" cy="136.6" r="2.55"/>
<circle cx="507.2" cy="136.3" r="2.55"/>
<circle cx="508.9" cy="135.0" r="2.55"/>
<circle cx="509.3" cy="136.0" r="2.55"/>
<circle cx="511.0" cy="133.7" r="2.55"/>
<circle cx="512.2" cy="134.5" r="2.55"/>
<circle cx="512.9" cy="132.4" r="2.55"/>
<circle cx="514.0" cy="131.9" r="2.55"/>
<circle cx="514.6" cy="131.6" r="2.55"/>
<circle cx="515.5" cy="132.6" r="2.55"/>
<circle cx="516.6" cy="131.2" r="2.55"/>
<circle cx="518.4" cy="130.0" r="2.55"/>
<circle cx="519.7" cy="129.6" r="2.55"/>
<circle cx="520.4" cy="129.2" r="2.55"/>
<circle cx="521.8" cy="130.3" r="2.55"/>
<circle cx="523.1" cy="129.6" r="2.55"/>
<circle cx="438.1" cy="164.5" r="2.55"/>
<circle cx="439.2" cy="169.5" r="2.55"/>
<circle cx="440.4" cy="170.7" r="2.55"/>
<circle cx="441.4" cy="168.6" r="2.55"/>
<circle cx="443.5" cy="160.4" r="2.55"/>
<circle cx="457.0" cy="168.0" r="2.55"/>
<circle cx="493.8" cy="149.1" r="2.55"/>
<circle cx="507.0" cy="138.4" r="2.55"/>
<circle cx="524.5" cy="157.5" r="2.55"/>
<circle cx="481.2" cy="148.9" r="2.55"/>
<circle cx="482.4" cy="145.1" r="2.55"/>
<circle cx="484.8" cy="148.3" r="2.55"/>
<circle cx="487.3" cy="143.8" r="2.55"/>
<circle cx="489.7" cy="145.7" r="2.55"/>
<circle cx="499.4" cy="137.5" r="2.55"/>
<circle cx="501.9" cy="136.2" r="2.55"/>
</g>
<line x1="438.62" y1="167.37" x2="524.47" y2="129.85" stroke="#151515" stroke-width="1.25"/>
<text class="t" x="420.00" y="128.60" font-size="6.8" textLength="26" lengthAdjust="spacingAndGlyphs">R² = 0.879</text>
<text class="t" x="420.00" y="137.60" font-size="6.8" textLength="39.4" lengthAdjust="spacingAndGlyphs">MAPE =9.2 %</text>
<rect x="68.0" y="199.6" width="151.9" height="83.7" fill="#fff" stroke="#d9d9d9" stroke-width="1.1"/>
<line x1="117.28" y1="209.10" x2="117.28" y2="264.50" stroke="#e0e0e0" stroke-width="0.8"/>
<line x1="141.16" y1="209.10" x2="141.16" y2="264.50" stroke="#e0e0e0" stroke-width="0.8"/>
<line x1="165.04" y1="209.10" x2="165.04" y2="264.50" stroke="#e0e0e0" stroke-width="0.8"/>
<line x1="188.92" y1="209.10" x2="188.92" y2="264.50" stroke="#e0e0e0" stroke-width="0.8"/>
<line x1="212.80" y1="209.10" x2="212.80" y2="264.50" stroke="#e0e0e0" stroke-width="0.8"/>
<line x1="93.40" y1="264.50" x2="212.80" y2="264.50" stroke="#e0e0e0" stroke-width="0.8"/>
<line x1="93.40" y1="236.80" x2="212.80" y2="236.80" stroke="#e0e0e0" stroke-width="0.8"/>
<line x1="93.40" y1="209.10" x2="212.80" y2="209.10" stroke="#e0e0e0" stroke-width="0.8"/>
<line x1="93.40" y1="209.10" x2="93.40" y2="264.50" stroke="#e0e0e0" stroke-width="0.8"/>
<text class="s" x="88.00" y="267.10" font-size="5.0" text-anchor="end">0.4</text>
<text class="s" x="88.00" y="239.40" font-size="5.0" text-anchor="end">0.45</text>
<text class="s" x="88.00" y="211.70" font-size="5.0" text-anchor="end">0.5</text>
<text class="s" x="93.40" y="274.30" font-size="5.0" text-anchor="middle">0</text>
<text class="s" x="117.28" y="274.30" font-size="5.0" text-anchor="middle">0.2</text>
<text class="s" x="141.16" y="274.30" font-size="5.0" text-anchor="middle">0.4</text>
<text class="s" x="165.04" y="274.30" font-size="5.0" text-anchor="middle">0.6</text>
<text class="s" x="188.92" y="274.30" font-size="5.0" text-anchor="middle">0.8</text>
<text class="s" x="212.80" y="274.30" font-size="5.0" text-anchor="middle">1</text>
<text class="s" x="146.00" y="207.30" font-size="6.8" text-anchor="middle" stroke="#595959" stroke-width="0.18">VAR: Climate Indices</text>
<g fill="#4472C4" stroke="#34599f" stroke-width="0.6">
<circle cx="104.9" cy="231.8" r="2.55"/>
<circle cx="104.9" cy="229.0" r="2.55"/>
<circle cx="109.3" cy="223.2" r="2.55"/>
<circle cx="112.7" cy="219.1" r="2.55"/>
<circle cx="116.1" cy="214.6" r="2.55"/>
<circle cx="118.5" cy="214.6" r="2.55"/>
<circle cx="120.7" cy="217.4" r="2.55"/>
<circle cx="125.2" cy="225.7" r="2.55"/>
<circle cx="129.1" cy="235.7" r="2.55"/>
<circle cx="121.3" cy="245.7" r="2.55"/>
<circle cx="124.1" cy="250.7" r="2.55"/>
<circle cx="130.4" cy="256.7" r="2.55"/>
<circle cx="136.6" cy="258.4" r="2.55"/>
<circle cx="140.4" cy="250.7" r="2.55"/>
<circle cx="144.0" cy="237.4" r="2.55"/>
<circle cx="145.9" cy="214.6" r="2.55"/>
<circle cx="147.1" cy="216.9" r="2.55"/>
<circle cx="200.1" cy="216.9" r="2.55"/>
<circle cx="196.1" cy="214.6" r="2.55"/>
<circle cx="194.9" cy="217.4" r="2.55"/>
<circle cx="132.1" cy="222.7" r="2.55"/>
<circle cx="134.0" cy="220.0" r="2.55"/>
<circle cx="135.0" cy="223.4" r="2.55"/>
<circle cx="136.4" cy="220.1" r="2.55"/>
<circle cx="137.7" cy="220.5" r="2.55"/>
<circle cx="139.7" cy="224.3" r="2.55"/>
<circle cx="140.9" cy="222.8" r="2.55"/>
<circle cx="142.1" cy="220.0" r="2.55"/>
<circle cx="142.9" cy="225.6" r="2.55"/>
<circle cx="145.5" cy="223.9" r="2.55"/>
<circle cx="145.8" cy="224.4" r="2.55"/>
<circle cx="147.4" cy="221.2" r="2.55"/>
<circle cx="148.5" cy="225.4" r="2.55"/>
<circle cx="150.3" cy="223.9" r="2.55"/>
<circle cx="152.2" cy="222.5" r="2.55"/>
<circle cx="152.7" cy="226.1" r="2.55"/>
<circle cx="154.7" cy="222.0" r="2.55"/>
<circle cx="154.9" cy="223.4" r="2.55"/>
<circle cx="157.5" cy="224.1" r="2.55"/>
<circle cx="157.9" cy="223.3" r="2.55"/>
<circle cx="159.9" cy="226.8" r="2.55"/>
<circle cx="161.1" cy="226.7" r="2.55"/>
<circle cx="161.6" cy="226.0" r="2.55"/>
<circle cx="163.4" cy="225.7" r="2.55"/>
<circle cx="165.2" cy="223.3" r="2.55"/>
<circle cx="167.0" cy="222.5" r="2.55"/>
<circle cx="168.4" cy="223.5" r="2.55"/>
<circle cx="168.7" cy="226.8" r="2.55"/>
<circle cx="170.5" cy="224.7" r="2.55"/>
<circle cx="171.9" cy="227.1" r="2.55"/>
<circle cx="172.6" cy="222.4" r="2.55"/>
<circle cx="174.5" cy="223.5" r="2.55"/>
<circle cx="175.1" cy="225.1" r="2.55"/>
<circle cx="177.6" cy="223.3" r="2.55"/>
<circle cx="179.1" cy="225.6" r="2.55"/>
<circle cx="179.6" cy="222.2" r="2.55"/>
<circle cx="181.0" cy="222.1" r="2.55"/>
<circle cx="182.5" cy="225.5" r="2.55"/>
<circle cx="183.2" cy="220.6" r="2.55"/>
<circle cx="184.5" cy="224.7" r="2.55"/>
<circle cx="186.2" cy="221.5" r="2.55"/>
<circle cx="188.3" cy="222.4" r="2.55"/>
<circle cx="189.1" cy="220.5" r="2.55"/>
<circle cx="190.1" cy="222.6" r="2.55"/>
<circle cx="191.9" cy="220.7" r="2.55"/>
<circle cx="192.4" cy="223.5" r="2.55"/>
<circle cx="193.9" cy="219.8" r="2.55"/>
<circle cx="196.1" cy="217.9" r="2.55"/>
<circle cx="197.5" cy="221.6" r="2.55"/>
<circle cx="198.9" cy="217.3" r="2.55"/>
</g>
<line x1="104.86" y1="231.26" x2="200.86" y2="219.07" stroke="#151515" stroke-width="1.25"/>
<text class="t" x="166.10" y="251.60" font-size="6.8" textLength="26" lengthAdjust="spacingAndGlyphs">R² = 0.137</text>
<text class="t" x="166.10" y="259.20" font-size="6.8" textLength="42.0" lengthAdjust="spacingAndGlyphs">MAPE = 53.8%</text>
<text class="s" transform="translate(73.30,240.60) rotate(-90)" font-size="6.7" text-anchor="middle" dy="2.41">Water level (Predicted)</text>
<rect x="228.2" y="199.6" width="152.0" height="83.7" fill="#fff" stroke="#d9d9d9" stroke-width="1.1"/>
<line x1="273.78" y1="209.10" x2="273.78" y2="265.90" stroke="#e0e0e0" stroke-width="0.8"/>
<line x1="298.46" y1="209.10" x2="298.46" y2="265.90" stroke="#e0e0e0" stroke-width="0.8"/>
<line x1="323.14" y1="209.10" x2="323.14" y2="265.90" stroke="#e0e0e0" stroke-width="0.8"/>
<line x1="347.82" y1="209.10" x2="347.82" y2="265.90" stroke="#e0e0e0" stroke-width="0.8"/>
<line x1="372.50" y1="209.10" x2="372.50" y2="265.90" stroke="#e0e0e0" stroke-width="0.8"/>
<line x1="249.10" y1="265.90" x2="372.50" y2="265.90" stroke="#e0e0e0" stroke-width="0.8"/>
<line x1="249.10" y1="254.54" x2="372.50" y2="254.54" stroke="#e0e0e0" stroke-width="0.8"/>
<line x1="249.10" y1="243.18" x2="372.50" y2="243.18" stroke="#e0e0e0" stroke-width="0.8"/>
<line x1="249.10" y1="231.82" x2="372.50" y2="231.82" stroke="#e0e0e0" stroke-width="0.8"/>
<line x1="249.10" y1="220.46" x2="372.50" y2="220.46" stroke="#e0e0e0" stroke-width="0.8"/>
<line x1="249.10" y1="209.10" x2="372.50" y2="209.10" stroke="#e0e0e0" stroke-width="0.8"/>
<line x1="249.10" y1="209.10" x2="249.10" y2="265.90" stroke="#e0e0e0" stroke-width="0.8"/>
<text class="s" x="244.10" y="268.50" font-size="5.0" text-anchor="end">0</text>
<text class="s" x="244.10" y="257.14" font-size="5.0" text-anchor="end">0.2</text>
<text class="s" x="244.10" y="245.78" font-size="5.0" text-anchor="end">0.4</text>
<text class="s" x="244.10" y="234.42" font-size="5.0" text-anchor="end">0.6</text>
<text class="s" x="244.10" y="223.06" font-size="5.0" text-anchor="end">0.8</text>
<text class="s" x="244.10" y="211.70" font-size="5.0" text-anchor="end">1</text>
<text class="s" x="249.10" y="275.00" font-size="5.0" text-anchor="middle">0</text>
<text class="s" x="273.78" y="275.00" font-size="5.0" text-anchor="middle">0.2</text>
<text class="s" x="298.46" y="275.00" font-size="5.0" text-anchor="middle">0.4</text>
<text class="s" x="323.14" y="275.00" font-size="5.0" text-anchor="middle">0.6</text>
<text class="s" x="347.82" y="275.00" font-size="5.0" text-anchor="middle">0.8</text>
<text class="s" x="372.50" y="275.00" font-size="5.0" text-anchor="middle">1</text>
<text class="s" x="311.00" y="207.60" font-size="6.8" text-anchor="middle" stroke="#595959" stroke-width="0.18">MLP: Climate Indices</text>
<g fill="#4472C4" stroke="#34599f" stroke-width="0.6">
<circle cx="261.3" cy="254.5" r="2.55"/>
<circle cx="262.1" cy="257.7" r="2.55"/>
<circle cx="262.1" cy="259.2" r="2.55"/>
<circle cx="263.7" cy="253.7" r="2.55"/>
<circle cx="266.1" cy="253.7" r="2.55"/>
<circle cx="269.2" cy="252.9" r="2.55"/>
<circle cx="272.4" cy="252.1" r="2.55"/>
<circle cx="274.8" cy="251.3" r="2.55"/>
<circle cx="278.7" cy="252.9" r="2.55"/>
<circle cx="277.2" cy="249.7" r="2.55"/>
<circle cx="281.1" cy="248.2" r="2.55"/>
<circle cx="282.7" cy="249.7" r="2.55"/>
<circle cx="286.7" cy="252.9" r="2.55"/>
<circle cx="287.5" cy="246.6" r="2.55"/>
<circle cx="291.4" cy="247.4" r="2.55"/>
<circle cx="293.0" cy="242.6" r="2.55"/>
<circle cx="293.8" cy="244.2" r="2.55"/>
<circle cx="297.0" cy="241.8" r="2.55"/>
<circle cx="299.3" cy="241.0" r="2.55"/>
<circle cx="302.5" cy="238.7" r="2.55"/>
<circle cx="303.3" cy="234.7" r="2.55"/>
<circle cx="304.9" cy="232.3" r="2.55"/>
<circle cx="306.4" cy="229.2" r="2.55"/>
<circle cx="307.2" cy="230.7" r="2.55"/>
<circle cx="309.6" cy="233.1" r="2.55"/>
<circle cx="311.2" cy="235.5" r="2.55"/>
<circle cx="312.8" cy="231.5" r="2.55"/>
<circle cx="314.4" cy="230.7" r="2.55"/>
<circle cx="306.4" cy="251.6" r="2.55"/>
<circle cx="312.0" cy="234.7" r="2.55"/>
<circle cx="313.6" cy="232.3" r="2.55"/>
<circle cx="316.0" cy="233.1" r="2.55"/>
<circle cx="317.5" cy="236.3" r="2.55"/>
<circle cx="319.1" cy="230.7" r="2.55"/>
<circle cx="321.5" cy="231.5" r="2.55"/>
<circle cx="323.9" cy="229.2" r="2.55"/>
<circle cx="326.2" cy="230.0" r="2.55"/>
<circle cx="327.8" cy="228.4" r="2.55"/>
<circle cx="329.4" cy="227.6" r="2.55"/>
<circle cx="331.0" cy="231.5" r="2.55"/>
<circle cx="332.6" cy="226.8" r="2.55"/>
<circle cx="334.2" cy="224.4" r="2.55"/>
<circle cx="336.5" cy="225.2" r="2.55"/>
<circle cx="338.9" cy="224.4" r="2.55"/>
<circle cx="341.3" cy="223.6" r="2.55"/>
<circle cx="342.9" cy="222.8" r="2.55"/>
<circle cx="344.5" cy="222.8" r="2.55"/>
<circle cx="346.8" cy="218.9" r="2.55"/>
<circle cx="350.0" cy="219.7" r="2.55"/>
<circle cx="353.2" cy="218.9" r="2.55"/>
<circle cx="359.5" cy="220.5" r="2.55"/>
<circle cx="360.3" cy="218.9" r="2.55"/>
<circle cx="361.1" cy="219.7" r="2.55"/>
<circle cx="323.4" cy="247.4" r="2.55"/>
<circle cx="330.2" cy="241.5" r="2.55"/>
<circle cx="340.8" cy="234.2" r="2.55"/>
<circle cx="349.7" cy="233.1" r="2.55"/>
<circle cx="353.5" cy="233.1" r="2.55"/>
<circle cx="354.4" cy="239.5" r="2.55"/>
</g>
<line x1="261.44" y1="254.54" x2="360.16" y2="220.46" stroke="#151515" stroke-width="1.25"/>
<text class="t" x="255.20" y="218.60" font-size="6.8" textLength="26" lengthAdjust="spacingAndGlyphs">R² = 0.798</text>
<text class="t" x="255.20" y="227.00" font-size="6.8" textLength="41.7" lengthAdjust="spacingAndGlyphs">MAPE =25.6 %</text>
<rect x="392.3" y="199.6" width="151.7" height="83.7" fill="#fff" stroke="#d9d9d9" stroke-width="1.1"/>
<line x1="437.66" y1="209.10" x2="437.66" y2="265.90" stroke="#e0e0e0" stroke-width="0.8"/>
<line x1="462.22" y1="209.10" x2="462.22" y2="265.90" stroke="#e0e0e0" stroke-width="0.8"/>
<line x1="486.78" y1="209.10" x2="486.78" y2="265.90" stroke="#e0e0e0" stroke-width="0.8"/>
<line x1="511.34" y1="209.10" x2="511.34" y2="265.90" stroke="#e0e0e0" stroke-width="0.8"/>
<line x1="535.90" y1="209.10" x2="535.90" y2="265.90" stroke="#e0e0e0" stroke-width="0.8"/>
<line x1="413.10" y1="265.90" x2="535.90" y2="265.90" stroke="#e0e0e0" stroke-width="0.8"/>
<line x1="413.10" y1="254.54" x2="535.90" y2="254.54" stroke="#e0e0e0" stroke-width="0.8"/>
<line x1="413.10" y1="243.18" x2="535.90" y2="243.18" stroke="#e0e0e0" stroke-width="0.8"/>
<line x1="413.10" y1="231.82" x2="535.90" y2="231.82" stroke="#e0e0e0" stroke-width="0.8"/>
<line x1="413.10" y1="220.46" x2="535.90" y2="220.46" stroke="#e0e0e0" stroke-width="0.8"/>
<line x1="413.10" y1="209.10" x2="535.90" y2="209.10" stroke="#e0e0e0" stroke-width="0.8"/>
<line x1="413.10" y1="209.10" x2="413.10" y2="265.90" stroke="#e0e0e0" stroke-width="0.8"/>
<text class="s" x="409.00" y="268.50" font-size="5.0" text-anchor="end">0</text>
<text class="s" x="409.00" y="257.14" font-size="5.0" text-anchor="end">0.2</text>
<text class="s" x="409.00" y="245.78" font-size="5.0" text-anchor="end">0.4</text>
<text class="s" x="409.00" y="234.42" font-size="5.0" text-anchor="end">0.6</text>
<text class="s" x="409.00" y="223.06" font-size="5.0" text-anchor="end">0.8</text>
<text class="s" x="409.00" y="211.70" font-size="5.0" text-anchor="end">1</text>
<text class="s" x="413.10" y="274.50" font-size="5.0" text-anchor="middle">0</text>
<text class="s" x="437.66" y="274.50" font-size="5.0" text-anchor="middle">0.2</text>
<text class="s" x="462.22" y="274.50" font-size="5.0" text-anchor="middle">0.4</text>
<text class="s" x="486.78" y="274.50" font-size="5.0" text-anchor="middle">0.6</text>
<text class="s" x="511.34" y="274.50" font-size="5.0" text-anchor="middle">0.8</text>
<text class="s" x="535.90" y="274.50" font-size="5.0" text-anchor="middle">1</text>
<text class="s" x="481.30" y="207.60" font-size="6.8" text-anchor="middle" stroke="#595959" stroke-width="0.18">VAR-ANN: Climate Indices</text>
<g fill="#4472C4" stroke="#34599f" stroke-width="0.6">
<circle cx="425.1" cy="254.5" r="2.55"/>
<circle cx="425.1" cy="257.7" r="2.55"/>
<circle cx="425.9" cy="259.2" r="2.55"/>
<circle cx="428.3" cy="254.5" r="2.55"/>
<circle cx="430.7" cy="253.7" r="2.55"/>
<circle cx="433.0" cy="252.1" r="2.55"/>
<circle cx="435.4" cy="251.3" r="2.55"/>
<circle cx="437.8" cy="249.7" r="2.55"/>
<circle cx="440.2" cy="249.0" r="2.55"/>
<circle cx="442.5" cy="244.2" r="2.55"/>
<circle cx="444.1" cy="245.8" r="2.55"/>
<circle cx="445.7" cy="248.2" r="2.55"/>
<circle cx="448.1" cy="249.7" r="2.55"/>
<circle cx="449.7" cy="252.9" r="2.55"/>
<circle cx="451.2" cy="248.2" r="2.55"/>
<circle cx="453.6" cy="247.4" r="2.55"/>
<circle cx="455.2" cy="245.0" r="2.55"/>
<circle cx="457.6" cy="243.4" r="2.55"/>
<circle cx="460.0" cy="241.0" r="2.55"/>
<circle cx="462.3" cy="239.5" r="2.55"/>
<circle cx="463.9" cy="237.9" r="2.55"/>
<circle cx="465.5" cy="237.1" r="2.55"/>
<circle cx="467.1" cy="236.3" r="2.55"/>
<circle cx="469.4" cy="235.5" r="2.55"/>
<circle cx="471.8" cy="230.7" r="2.55"/>
<circle cx="473.4" cy="234.7" r="2.55"/>
<circle cx="475.8" cy="233.9" r="2.55"/>
<circle cx="477.4" cy="232.3" r="2.55"/>
<circle cx="471.5" cy="252.1" r="2.55"/>
<circle cx="475.0" cy="237.1" r="2.55"/>
<circle cx="476.6" cy="234.7" r="2.55"/>
<circle cx="479.0" cy="233.9" r="2.55"/>
<circle cx="481.3" cy="232.3" r="2.55"/>
<circle cx="483.7" cy="230.7" r="2.55"/>
<circle cx="486.1" cy="230.7" r="2.55"/>
<circle cx="488.5" cy="230.0" r="2.55"/>
<circle cx="491.6" cy="228.4" r="2.55"/>
<circle cx="493.2" cy="226.8" r="2.55"/>
<circle cx="494.8" cy="231.5" r="2.55"/>
<circle cx="496.4" cy="226.0" r="2.55"/>
<circle cx="498.0" cy="223.6" r="2.55"/>
<circle cx="499.5" cy="224.4" r="2.55"/>
<circle cx="501.9" cy="223.6" r="2.55"/>
<circle cx="504.3" cy="222.8" r="2.55"/>
<circle cx="506.7" cy="222.8" r="2.55"/>
<circle cx="509.0" cy="219.7" r="2.55"/>
<circle cx="511.4" cy="218.9" r="2.55"/>
<circle cx="514.6" cy="218.9" r="2.55"/>
<circle cx="517.0" cy="218.1" r="2.55"/>
<circle cx="523.3" cy="219.7" r="2.55"/>
<circle cx="524.1" cy="217.3" r="2.55"/>
<circle cx="524.9" cy="216.5" r="2.55"/>
<circle cx="487.3" cy="246.9" r="2.55"/>
<circle cx="493.7" cy="241.4" r="2.55"/>
<circle cx="504.3" cy="231.5" r="2.55"/>
<circle cx="513.3" cy="231.2" r="2.55"/>
<circle cx="517.0" cy="233.9" r="2.55"/>
<circle cx="518.1" cy="240.7" r="2.55"/>
</g>
<line x1="425.38" y1="254.54" x2="523.62" y2="220.46" stroke="#151515" stroke-width="1.25"/>
<text class="t" x="420.00" y="218.60" font-size="6.8" textLength="26" lengthAdjust="spacingAndGlyphs">R² = 0.856</text>
<text class="t" x="420.00" y="227.60" font-size="6.8" textLength="41.9" lengthAdjust="spacingAndGlyphs">MAPE = 10.5%</text>
<rect x="68.0" y="290.3" width="151.9" height="83.6" fill="#fff" stroke="#d9d9d9" stroke-width="1.1"/>
<line x1="115.98" y1="297.40" x2="115.98" y2="354.40" stroke="#e0e0e0" stroke-width="0.8"/>
<line x1="140.16" y1="297.40" x2="140.16" y2="354.40" stroke="#e0e0e0" stroke-width="0.8"/>
<line x1="164.34" y1="297.40" x2="164.34" y2="354.40" stroke="#e0e0e0" stroke-width="0.8"/>
<line x1="188.52" y1="297.40" x2="188.52" y2="354.40" stroke="#e0e0e0" stroke-width="0.8"/>
<line x1="212.70" y1="297.40" x2="212.70" y2="354.40" stroke="#e0e0e0" stroke-width="0.8"/>
<line x1="91.80" y1="354.40" x2="212.70" y2="354.40" stroke="#e0e0e0" stroke-width="0.8"/>
<line x1="91.80" y1="343.00" x2="212.70" y2="343.00" stroke="#e0e0e0" stroke-width="0.8"/>
<line x1="91.80" y1="331.60" x2="212.70" y2="331.60" stroke="#e0e0e0" stroke-width="0.8"/>
<line x1="91.80" y1="320.20" x2="212.70" y2="320.20" stroke="#e0e0e0" stroke-width="0.8"/>
<line x1="91.80" y1="308.80" x2="212.70" y2="308.80" stroke="#e0e0e0" stroke-width="0.8"/>
<line x1="91.80" y1="297.40" x2="212.70" y2="297.40" stroke="#e0e0e0" stroke-width="0.8"/>
<line x1="91.80" y1="297.40" x2="91.80" y2="354.40" stroke="#e0e0e0" stroke-width="0.8"/>
<text class="s" x="88.00" y="356.75" font-size="4.3" text-anchor="end">0</text>
<text class="s" x="88.00" y="345.35" font-size="4.3" text-anchor="end">0.2</text>
<text class="s" x="88.00" y="333.95" font-size="4.3" text-anchor="end">0.4</text>
<text class="s" x="88.00" y="322.55" font-size="4.3" text-anchor="end">0.6</text>
<text class="s" x="88.00" y="311.15" font-size="4.3" text-anchor="end">0.8</text>
<text class="s" x="88.00" y="299.75" font-size="4.3" text-anchor="end">1</text>
<text class="s" x="91.80" y="363.80" font-size="5.6" text-anchor="middle">0</text>
<text class="s" x="115.98" y="363.80" font-size="5.6" text-anchor="middle">0.2</text>
<text class="s" x="140.16" y="363.80" font-size="5.6" text-anchor="middle">0.4</text>
<text class="s" x="164.34" y="363.80" font-size="5.6" text-anchor="middle">0.6</text>
<text class="s" x="188.52" y="363.80" font-size="5.6" text-anchor="middle">0.8</text>
<text class="s" x="212.70" y="363.80" font-size="5.6" text-anchor="middle">1</text>
<text class="s" x="151.00" y="297.60" font-size="6.8" text-anchor="middle" stroke="#595959" stroke-width="0.18">VAR: LULC</text>
<g fill="#4472C4" stroke="#34599f" stroke-width="0.6">
<circle cx="103.8" cy="349.5" r="2.45"/>
<circle cx="105.2" cy="348.0" r="2.45"/>
<circle cx="107.2" cy="347.3" r="2.45"/>
<circle cx="108.9" cy="346.9" r="2.45"/>
<circle cx="110.7" cy="345.8" r="2.45"/>
<circle cx="112.4" cy="345.0" r="2.45"/>
<circle cx="114.1" cy="344.4" r="2.45"/>
<circle cx="115.0" cy="344.3" r="2.45"/>
<circle cx="117.2" cy="343.3" r="2.45"/>
<circle cx="118.8" cy="342.0" r="2.45"/>
<circle cx="119.9" cy="341.3" r="2.45"/>
<circle cx="121.5" cy="340.5" r="2.45"/>
<circle cx="123.9" cy="340.1" r="2.45"/>
<circle cx="125.4" cy="338.8" r="2.45"/>
<circle cx="126.5" cy="338.4" r="2.45"/>
<circle cx="128.1" cy="337.3" r="2.45"/>
<circle cx="130.3" cy="336.2" r="2.45"/>
<circle cx="131.3" cy="336.5" r="2.45"/>
<circle cx="133.5" cy="336.9" r="2.45"/>
<circle cx="134.7" cy="336.0" r="2.45"/>
<circle cx="137.0" cy="335.6" r="2.45"/>
<circle cx="138.0" cy="334.7" r="2.45"/>
<circle cx="139.9" cy="333.8" r="2.45"/>
<circle cx="141.6" cy="333.3" r="2.45"/>
<circle cx="142.8" cy="333.1" r="2.45"/>
<circle cx="144.8" cy="331.4" r="2.45"/>
<circle cx="146.4" cy="329.0" r="2.45"/>
<circle cx="148.2" cy="328.0" r="2.45"/>
<circle cx="149.9" cy="327.8" r="2.45"/>
<circle cx="151.1" cy="327.6" r="2.45"/>
<circle cx="152.6" cy="325.9" r="2.45"/>
<circle cx="155.1" cy="324.9" r="2.45"/>
<circle cx="156.0" cy="324.6" r="2.45"/>
<circle cx="157.6" cy="323.6" r="2.45"/>
<circle cx="159.8" cy="322.7" r="2.45"/>
<circle cx="161.4" cy="322.4" r="2.45"/>
<circle cx="163.2" cy="320.9" r="2.45"/>
<circle cx="164.3" cy="321.0" r="2.45"/>
<circle cx="166.4" cy="319.7" r="2.45"/>
<circle cx="167.7" cy="319.4" r="2.45"/>
<circle cx="169.9" cy="318.5" r="2.45"/>
<circle cx="170.8" cy="317.6" r="2.45"/>
<circle cx="172.5" cy="316.6" r="2.45"/>
<circle cx="174.2" cy="315.8" r="2.45"/>
<circle cx="175.9" cy="315.0" r="2.45"/>
<circle cx="177.9" cy="314.3" r="2.45"/>
<circle cx="179.0" cy="314.4" r="2.45"/>
<circle cx="180.5" cy="313.7" r="2.45"/>
<circle cx="182.7" cy="312.8" r="2.45"/>
<circle cx="184.0" cy="311.6" r="2.45"/>
<circle cx="185.5" cy="311.2" r="2.45"/>
<circle cx="187.2" cy="310.0" r="2.45"/>
<circle cx="188.8" cy="308.9" r="2.45"/>
<circle cx="190.9" cy="308.3" r="2.45"/>
<circle cx="192.5" cy="307.8" r="2.45"/>
<circle cx="194.5" cy="306.4" r="2.45"/>
<circle cx="196.0" cy="306.6" r="2.45"/>
<circle cx="197.4" cy="304.9" r="2.45"/>
<circle cx="199.1" cy="304.6" r="2.45"/>
<circle cx="200.8" cy="304.3" r="2.45"/>
<circle cx="103.9" cy="349.3" r="2.45"/>
<circle cx="200.6" cy="303.7" r="2.45"/>
<circle cx="137.7" cy="335.6" r="2.45"/>
<circle cx="142.6" cy="334.4" r="2.45"/>
<circle cx="140.2" cy="334.7" r="2.45"/>
</g>
<line x1="103.89" y1="349.10" x2="200.61" y2="303.95" stroke="#151515" stroke-width="1.25"/>
<text class="t" x="166.10" y="341.60" font-size="6.8" textLength="26" lengthAdjust="spacingAndGlyphs">R² = 0.998</text>
<text class="t" x="166.10" y="349.70" font-size="6.8" textLength="38.4" lengthAdjust="spacingAndGlyphs">MAPE = 2.4%</text>
<text class="s" transform="translate(73.40,333.20) rotate(-90)" font-size="6.0" text-anchor="middle" dy="2.18">Water level (Predicted)</text>
<text class="s" x="152.60" y="370.80" font-size="6.3" text-anchor="middle">Water level (Obsrved)</text>
<rect x="228.2" y="290.3" width="152.0" height="83.6" fill="#fff" stroke="#d9d9d9" stroke-width="1.1"/>
<line x1="271.46" y1="298.50" x2="271.46" y2="356.00" stroke="#e0e0e0" stroke-width="0.8"/>
<line x1="296.52" y1="298.50" x2="296.52" y2="356.00" stroke="#e0e0e0" stroke-width="0.8"/>
<line x1="321.58" y1="298.50" x2="321.58" y2="356.00" stroke="#e0e0e0" stroke-width="0.8"/>
<line x1="346.64" y1="298.50" x2="346.64" y2="356.00" stroke="#e0e0e0" stroke-width="0.8"/>
<line x1="371.70" y1="298.50" x2="371.70" y2="356.00" stroke="#e0e0e0" stroke-width="0.8"/>
<line x1="246.40" y1="356.00" x2="371.70" y2="356.00" stroke="#e0e0e0" stroke-width="0.8"/>
<line x1="246.40" y1="327.25" x2="371.70" y2="327.25" stroke="#e0e0e0" stroke-width="0.8"/>
<line x1="246.40" y1="298.50" x2="371.70" y2="298.50" stroke="#e0e0e0" stroke-width="0.8"/>
<line x1="246.40" y1="298.50" x2="246.40" y2="356.00" stroke="#e0e0e0" stroke-width="0.8"/>
<text class="s" x="240.00" y="358.46" font-size="4.6" text-anchor="end">0.4</text>
<text class="s" x="240.00" y="329.71" font-size="4.6" text-anchor="end">0.5</text>
<text class="s" x="240.00" y="300.96" font-size="4.6" text-anchor="end">0.6</text>
<text class="s" x="246.40" y="364.80" font-size="5.4" text-anchor="middle">0.0</text>
<text class="s" x="271.46" y="364.80" font-size="5.4" text-anchor="middle">0.2</text>
<text class="s" x="296.52" y="364.80" font-size="5.4" text-anchor="middle">0.4</text>
<text class="s" x="321.58" y="364.80" font-size="5.4" text-anchor="middle">0.6</text>
<text class="s" x="346.64" y="364.80" font-size="5.4" text-anchor="middle">0.8</text>
<text class="s" x="371.70" y="364.80" font-size="5.4" text-anchor="middle">1.0</text>
<text class="s" x="308.20" y="297.60" font-size="6.8" text-anchor="middle" stroke="#595959" stroke-width="0.18">MLP: LULC</text>
<g fill="#4472C4" stroke="#34599f" stroke-width="0.6">
<circle cx="267.9" cy="320.2" r="2.55"/>
<circle cx="267.9" cy="318.9" r="2.55"/>
<circle cx="269.2" cy="316.1" r="2.55"/>
<circle cx="269.9" cy="319.8" r="2.55"/>
<circle cx="269.8" cy="320.2" r="2.55"/>
<circle cx="270.0" cy="317.2" r="2.55"/>
<circle cx="270.3" cy="319.1" r="2.55"/>
<circle cx="271.8" cy="316.9" r="2.55"/>
<circle cx="271.7" cy="316.6" r="2.55"/>
<circle cx="273.1" cy="320.3" r="2.55"/>
<circle cx="273.7" cy="315.9" r="2.55"/>
<circle cx="273.5" cy="319.4" r="2.55"/>
<circle cx="275.0" cy="318.2" r="2.55"/>
<circle cx="274.3" cy="319.7" r="2.55"/>
<circle cx="275.9" cy="316.5" r="2.55"/>
<circle cx="276.4" cy="315.7" r="2.55"/>
<circle cx="276.6" cy="314.2" r="2.55"/>
<circle cx="276.9" cy="316.9" r="2.55"/>
<circle cx="278.1" cy="316.4" r="2.55"/>
<circle cx="278.7" cy="316.7" r="2.55"/>
<circle cx="279.0" cy="320.1" r="2.55"/>
<circle cx="278.9" cy="318.5" r="2.55"/>
<circle cx="279.2" cy="318.9" r="2.55"/>
<circle cx="279.8" cy="318.6" r="2.55"/>
<circle cx="281.1" cy="318.0" r="2.55"/>
<circle cx="281.3" cy="319.0" r="2.55"/>
<circle cx="281.7" cy="314.4" r="2.55"/>
<circle cx="282.8" cy="316.5" r="2.55"/>
<circle cx="282.7" cy="315.7" r="2.55"/>
<circle cx="283.2" cy="317.9" r="2.55"/>
<circle cx="285.0" cy="316.3" r="2.55"/>
<circle cx="284.9" cy="316.0" r="2.55"/>
<circle cx="285.9" cy="315.4" r="2.55"/>
<circle cx="285.5" cy="320.1" r="2.55"/>
<circle cx="286.2" cy="318.7" r="2.55"/>
<circle cx="286.6" cy="314.4" r="2.55"/>
<circle cx="288.1" cy="318.4" r="2.55"/>
<circle cx="288.3" cy="317.8" r="2.55"/>
<circle cx="289.3" cy="317.4" r="2.55"/>
<circle cx="288.9" cy="318.8" r="2.55"/>
<circle cx="289.9" cy="318.7" r="2.55"/>
<circle cx="290.4" cy="314.7" r="2.55"/>
<circle cx="290.7" cy="319.0" r="2.55"/>
<circle cx="292.2" cy="317.1" r="2.55"/>
<circle cx="291.4" cy="320.1" r="2.55"/>
<circle cx="291.9" cy="316.4" r="2.55"/>
<circle cx="293.5" cy="317.7" r="2.55"/>
<circle cx="293.0" cy="317.9" r="2.55"/>
<circle cx="294.9" cy="317.0" r="2.55"/>
<circle cx="295.4" cy="314.9" r="2.55"/>
<circle cx="294.5" cy="315.8" r="2.55"/>
<circle cx="296.1" cy="317.0" r="2.55"/>
<circle cx="296.0" cy="316.3" r="2.55"/>
<circle cx="296.4" cy="317.6" r="2.55"/>
<circle cx="297.4" cy="314.3" r="2.55"/>
<circle cx="298.6" cy="318.7" r="2.55"/>
<circle cx="298.6" cy="319.2" r="2.55"/>
<circle cx="299.8" cy="314.8" r="2.55"/>
<circle cx="299.4" cy="316.3" r="2.55"/>
<circle cx="300.4" cy="319.4" r="2.55"/>
<circle cx="301.2" cy="316.9" r="2.55"/>
<circle cx="301.8" cy="317.0" r="2.55"/>
<circle cx="301.2" cy="318.3" r="2.55"/>
<circle cx="301.7" cy="314.5" r="2.55"/>
<circle cx="303.6" cy="313.4" r="2.55"/>
<circle cx="303.3" cy="319.9" r="2.55"/>
<circle cx="304.7" cy="312.5" r="2.55"/>
<circle cx="304.0" cy="316.3" r="2.55"/>
<circle cx="304.6" cy="314.0" r="2.55"/>
<circle cx="306.2" cy="319.3" r="2.55"/>
<circle cx="306.3" cy="315.8" r="2.55"/>
<circle cx="306.5" cy="313.1" r="2.55"/>
<circle cx="307.3" cy="318.6" r="2.55"/>
<circle cx="308.0" cy="314.3" r="2.55"/>
<circle cx="308.1" cy="317.8" r="2.55"/>
<circle cx="309.8" cy="314.9" r="2.55"/>
<circle cx="309.5" cy="316.0" r="2.55"/>
<circle cx="309.6" cy="318.5" r="2.55"/>
<circle cx="310.5" cy="315.4" r="2.55"/>
<circle cx="310.9" cy="318.5" r="2.55"/>
<circle cx="311.2" cy="315.1" r="2.55"/>
<circle cx="312.0" cy="312.8" r="2.55"/>
<circle cx="313.5" cy="319.8" r="2.55"/>
<circle cx="313.1" cy="314.8" r="2.55"/>
<circle cx="313.6" cy="319.2" r="2.55"/>
<circle cx="315.2" cy="315.6" r="2.55"/>
<circle cx="315.1" cy="313.8" r="2.55"/>
<circle cx="316.2" cy="318.8" r="2.55"/>
<circle cx="315.6" cy="316.8" r="2.55"/>
<circle cx="316.7" cy="316.5" r="2.55"/>
<circle cx="317.7" cy="314.7" r="2.55"/>
<circle cx="318.6" cy="319.5" r="2.55"/>
<circle cx="318.3" cy="317.5" r="2.55"/>
<circle cx="319.5" cy="318.3" r="2.55"/>
<circle cx="319.1" cy="316.6" r="2.55"/>
<circle cx="320.0" cy="318.0" r="2.55"/>
<circle cx="320.3" cy="312.7" r="2.55"/>
<circle cx="321.1" cy="313.2" r="2.55"/>
<circle cx="321.8" cy="319.9" r="2.55"/>
<circle cx="323.1" cy="313.4" r="2.55"/>
<circle cx="323.6" cy="312.6" r="2.55"/>
<circle cx="323.9" cy="319.0" r="2.55"/>
<circle cx="323.9" cy="318.6" r="2.55"/>
<circle cx="324.4" cy="319.9" r="2.55"/>
<circle cx="324.9" cy="312.1" r="2.55"/>
<circle cx="325.3" cy="313.8" r="2.55"/>
<circle cx="326.1" cy="316.8" r="2.55"/>
<circle cx="327.4" cy="312.1" r="2.55"/>
<circle cx="327.4" cy="314.4" r="2.55"/>
<circle cx="327.3" cy="317.9" r="2.55"/>
<circle cx="329.1" cy="315.5" r="2.55"/>
<circle cx="329.0" cy="314.1" r="2.55"/>
<circle cx="328.8" cy="315.5" r="2.55"/>
<circle cx="330.0" cy="313.2" r="2.55"/>
<circle cx="330.1" cy="312.3" r="2.55"/>
<circle cx="330.5" cy="318.8" r="2.55"/>
<circle cx="331.8" cy="314.7" r="2.55"/>
<circle cx="331.8" cy="319.4" r="2.55"/>
<circle cx="333.4" cy="318.3" r="2.55"/>
<circle cx="333.5" cy="315.2" r="2.55"/>
<circle cx="333.8" cy="315.5" r="2.55"/>
<circle cx="334.5" cy="312.6" r="2.55"/>
<circle cx="334.6" cy="314.4" r="2.55"/>
<circle cx="335.2" cy="317.1" r="2.55"/>
<circle cx="336.4" cy="317.8" r="2.55"/>
<circle cx="336.4" cy="314.1" r="2.55"/>
<circle cx="336.6" cy="316.5" r="2.55"/>
<circle cx="338.5" cy="312.0" r="2.55"/>
<circle cx="337.7" cy="318.6" r="2.55"/>
<circle cx="338.5" cy="312.6" r="2.55"/>
<circle cx="340.0" cy="313.0" r="2.55"/>
<circle cx="339.8" cy="319.0" r="2.55"/>
<circle cx="341.0" cy="314.5" r="2.55"/>
<circle cx="341.2" cy="312.1" r="2.55"/>
<circle cx="341.9" cy="320.3" r="2.55"/>
<circle cx="342.6" cy="317.9" r="2.55"/>
<circle cx="343.0" cy="312.5" r="2.55"/>
<circle cx="342.7" cy="319.4" r="2.55"/>
<circle cx="343.2" cy="315.7" r="2.55"/>
<circle cx="344.0" cy="315.3" r="2.55"/>
<circle cx="345.3" cy="318.7" r="2.55"/>
<circle cx="345.7" cy="318.1" r="2.55"/>
<circle cx="346.0" cy="312.8" r="2.55"/>
<circle cx="347.1" cy="319.6" r="2.55"/>
<circle cx="347.0" cy="318.0" r="2.55"/>
<circle cx="346.9" cy="313.9" r="2.55"/>
<circle cx="348.4" cy="318.2" r="2.55"/>
<circle cx="349.2" cy="315.8" r="2.55"/>
<circle cx="349.2" cy="320.3" r="2.55"/>
<circle cx="349.3" cy="313.0" r="2.55"/>
<circle cx="351.1" cy="315.8" r="2.55"/>
<circle cx="351.5" cy="315.5" r="2.55"/>
<circle cx="351.0" cy="319.3" r="2.55"/>
<circle cx="351.8" cy="312.9" r="2.55"/>
<circle cx="353.1" cy="313.2" r="2.55"/>
<circle cx="353.8" cy="318.6" r="2.55"/>
<circle cx="353.4" cy="319.5" r="2.55"/>
<circle cx="354.7" cy="313.0" r="2.55"/>
<circle cx="354.7" cy="315.2" r="2.55"/>
<circle cx="354.9" cy="312.6" r="2.55"/>
<circle cx="262.7" cy="317.7" r="2.55"/>
<circle cx="263.3" cy="317.3" r="2.55"/>
<circle cx="263.8" cy="317.9" r="2.55"/>
<circle cx="264.4" cy="317.6" r="2.55"/>
<circle cx="265.0" cy="320.8" r="2.55"/>
<circle cx="265.5" cy="318.2" r="2.55"/>
<circle cx="266.1" cy="319.7" r="2.55"/>
<circle cx="266.7" cy="317.4" r="2.55"/>
<circle cx="267.2" cy="317.9" r="2.55"/>
<circle cx="267.8" cy="317.7" r="2.55"/>
<circle cx="268.4" cy="317.9" r="2.55"/>
<circle cx="269.0" cy="319.9" r="2.55"/>
<circle cx="259.3" cy="326.2" r="2.55"/>
<circle cx="261.4" cy="324.7" r="2.55"/>
<circle cx="262.5" cy="324.7" r="2.55"/>
<circle cx="264.8" cy="325.8" r="2.55"/>
<circle cx="267.2" cy="325.9" r="2.55"/>
<circle cx="268.2" cy="326.0" r="2.55"/>
<circle cx="270.5" cy="324.6" r="2.55"/>
<circle cx="273.3" cy="325.8" r="2.55"/>
<circle cx="274.9" cy="325.6" r="2.55"/>
<circle cx="277.3" cy="325.3" r="2.55"/>
<circle cx="279.2" cy="326.2" r="2.55"/>
<circle cx="281.2" cy="326.0" r="2.55"/>
<circle cx="283.1" cy="325.9" r="2.55"/>
<circle cx="284.0" cy="325.5" r="2.55"/>
<circle cx="286.8" cy="325.8" r="2.55"/>
<circle cx="288.6" cy="325.4" r="2.55"/>
<circle cx="290.3" cy="325.2" r="2.55"/>
<circle cx="292.1" cy="325.0" r="2.55"/>
<circle cx="293.7" cy="324.5" r="2.55"/>
<circle cx="296.4" cy="324.9" r="2.55"/>
<circle cx="298.6" cy="325.0" r="2.55"/>
<circle cx="300.1" cy="326.2" r="2.55"/>
<circle cx="258.4" cy="333.3" r="2.55"/>
<circle cx="258.5" cy="331.1" r="2.55"/>
<circle cx="259.6" cy="333.4" r="2.55"/>
<circle cx="259.7" cy="333.0" r="2.55"/>
<circle cx="260.4" cy="333.4" r="2.55"/>
<circle cx="260.7" cy="332.9" r="2.55"/>
<circle cx="262.3" cy="331.8" r="2.55"/>
<circle cx="262.8" cy="332.1" r="2.55"/>
<circle cx="262.7" cy="332.4" r="2.55"/>
<circle cx="262.9" cy="333.5" r="2.55"/>
<circle cx="264.0" cy="332.2" r="2.55"/>
<circle cx="264.9" cy="332.7" r="2.55"/>
<circle cx="265.2" cy="333.8" r="2.55"/>
<circle cx="265.9" cy="330.8" r="2.55"/>
<circle cx="266.9" cy="334.0" r="2.55"/>
<circle cx="266.6" cy="332.5" r="2.55"/>
<circle cx="267.8" cy="333.3" r="2.55"/>
<circle cx="268.7" cy="331.5" r="2.55"/>
<circle cx="269.1" cy="333.8" r="2.55"/>
<circle cx="269.1" cy="334.6" r="2.55"/>
<circle cx="269.7" cy="332.7" r="2.55"/>
<circle cx="271.1" cy="334.4" r="2.55"/>
<circle cx="271.1" cy="332.0" r="2.55"/>
<circle cx="271.4" cy="331.7" r="2.55"/>
<circle cx="272.4" cy="333.7" r="2.55"/>
<circle cx="273.2" cy="334.7" r="2.55"/>
<circle cx="273.9" cy="331.4" r="2.55"/>
<circle cx="273.7" cy="332.9" r="2.55"/>
<circle cx="274.4" cy="330.6" r="2.55"/>
<circle cx="275.4" cy="334.5" r="2.55"/>
<circle cx="275.7" cy="331.1" r="2.55"/>
<circle cx="276.5" cy="331.3" r="2.55"/>
<circle cx="277.4" cy="330.5" r="2.55"/>
<circle cx="277.9" cy="330.6" r="2.55"/>
<circle cx="278.8" cy="332.1" r="2.55"/>
<circle cx="279.2" cy="332.5" r="2.55"/>
<circle cx="279.9" cy="332.4" r="2.55"/>
<circle cx="280.6" cy="331.5" r="2.55"/>
<circle cx="280.7" cy="333.6" r="2.55"/>
<circle cx="281.0" cy="332.0" r="2.55"/>
<circle cx="282.2" cy="332.5" r="2.55"/>
<circle cx="282.7" cy="333.5" r="2.55"/>
<circle cx="282.6" cy="333.5" r="2.55"/>
<circle cx="283.4" cy="333.3" r="2.55"/>
<circle cx="284.3" cy="334.1" r="2.55"/>
<circle cx="284.5" cy="331.7" r="2.55"/>
<circle cx="285.7" cy="334.4" r="2.55"/>
<circle cx="285.9" cy="332.4" r="2.55"/>
<circle cx="286.5" cy="333.8" r="2.55"/>
<circle cx="287.1" cy="330.8" r="2.55"/>
<circle cx="287.9" cy="331.7" r="2.55"/>
<circle cx="288.9" cy="331.4" r="2.55"/>
<circle cx="288.9" cy="334.7" r="2.55"/>
<circle cx="289.4" cy="331.5" r="2.55"/>
<circle cx="290.7" cy="330.6" r="2.55"/>
<circle cx="290.7" cy="331.5" r="2.55"/>
<circle cx="291.5" cy="332.1" r="2.55"/>
<circle cx="291.6" cy="333.8" r="2.55"/>
<circle cx="292.5" cy="334.6" r="2.55"/>
<circle cx="293.0" cy="331.8" r="2.55"/>
<circle cx="293.6" cy="334.0" r="2.55"/>
<circle cx="294.3" cy="334.2" r="2.55"/>
<circle cx="295.1" cy="334.6" r="2.55"/>
<circle cx="295.4" cy="332.3" r="2.55"/>
<circle cx="295.5" cy="332.0" r="2.55"/>
<circle cx="296.3" cy="332.7" r="2.55"/>
<circle cx="296.8" cy="333.1" r="2.55"/>
<circle cx="297.6" cy="333.3" r="2.55"/>
<circle cx="298.8" cy="333.1" r="2.55"/>
<circle cx="299.4" cy="331.1" r="2.55"/>
<circle cx="299.4" cy="334.4" r="2.55"/>
<circle cx="299.7" cy="332.4" r="2.55"/>
<circle cx="301.5" cy="333.2" r="2.55"/>
<circle cx="301.7" cy="331.4" r="2.55"/>
<circle cx="302.3" cy="331.5" r="2.55"/>
<circle cx="303.2" cy="333.9" r="2.55"/>
<circle cx="302.7" cy="334.1" r="2.55"/>
<circle cx="303.4" cy="331.8" r="2.55"/>
<circle cx="304.5" cy="333.8" r="2.55"/>
<circle cx="305.3" cy="331.4" r="2.55"/>
<circle cx="305.2" cy="332.1" r="2.55"/>
<circle cx="306.5" cy="334.2" r="2.55"/>
<circle cx="307.2" cy="330.6" r="2.55"/>
<circle cx="306.9" cy="334.6" r="2.55"/>
<circle cx="307.8" cy="331.8" r="2.55"/>
<circle cx="309.2" cy="333.0" r="2.55"/>
<circle cx="309.5" cy="334.4" r="2.55"/>
<circle cx="310.0" cy="332.0" r="2.55"/>
<circle cx="309.9" cy="331.4" r="2.55"/>
<circle cx="311.4" cy="332.1" r="2.55"/>
<circle cx="311.1" cy="330.5" r="2.55"/>
<circle cx="312.5" cy="333.2" r="2.55"/>
<circle cx="312.7" cy="333.1" r="2.55"/>
<circle cx="313.3" cy="333.3" r="2.55"/>
<circle cx="314.4" cy="331.2" r="2.55"/>
<circle cx="314.0" cy="330.6" r="2.55"/>
<circle cx="315.3" cy="331.2" r="2.55"/>
<circle cx="316.0" cy="332.8" r="2.55"/>
<circle cx="316.6" cy="330.6" r="2.55"/>
<circle cx="316.6" cy="331.2" r="2.55"/>
<circle cx="317.5" cy="332.6" r="2.55"/>
<circle cx="318.0" cy="331.6" r="2.55"/>
<circle cx="318.4" cy="331.1" r="2.55"/>
<circle cx="319.7" cy="334.4" r="2.55"/>
<circle cx="320.3" cy="333.7" r="2.55"/>
<circle cx="320.4" cy="332.1" r="2.55"/>
<circle cx="320.9" cy="334.6" r="2.55"/>
<circle cx="322.1" cy="333.9" r="2.55"/>
<circle cx="321.9" cy="331.3" r="2.55"/>
<circle cx="322.6" cy="330.9" r="2.55"/>
<circle cx="323.7" cy="333.5" r="2.55"/>
<circle cx="323.4" cy="330.6" r="2.55"/>
<circle cx="324.1" cy="331.6" r="2.55"/>
<circle cx="325.2" cy="331.5" r="2.55"/>
<circle cx="326.0" cy="331.9" r="2.55"/>
<circle cx="326.4" cy="331.3" r="2.55"/>
<circle cx="326.5" cy="333.8" r="2.55"/>
<circle cx="327.8" cy="333.4" r="2.55"/>
<circle cx="328.3" cy="332.7" r="2.55"/>
<circle cx="328.8" cy="332.9" r="2.55"/>
<circle cx="329.7" cy="333.3" r="2.55"/>
<circle cx="330.2" cy="333.6" r="2.55"/>
<circle cx="330.2" cy="334.2" r="2.55"/>
<circle cx="330.7" cy="334.2" r="2.55"/>
<circle cx="331.8" cy="331.4" r="2.55"/>
<circle cx="331.9" cy="333.8" r="2.55"/>
<circle cx="332.9" cy="331.6" r="2.55"/>
<circle cx="334.1" cy="332.5" r="2.55"/>
<circle cx="333.8" cy="334.3" r="2.55"/>
<circle cx="334.3" cy="333.7" r="2.55"/>
<circle cx="334.9" cy="334.7" r="2.55"/>
<circle cx="335.9" cy="333.5" r="2.55"/>
<circle cx="337.1" cy="332.3" r="2.55"/>
<circle cx="337.3" cy="334.2" r="2.55"/>
<circle cx="338.1" cy="332.6" r="2.55"/>
<circle cx="338.7" cy="332.2" r="2.55"/>
<circle cx="338.8" cy="332.8" r="2.55"/>
<circle cx="339.0" cy="334.5" r="2.55"/>
<circle cx="340.6" cy="332.7" r="2.55"/>
<circle cx="341.0" cy="333.0" r="2.55"/>
<circle cx="340.7" cy="332.0" r="2.55"/>
<circle cx="341.3" cy="334.1" r="2.55"/>
<circle cx="342.5" cy="333.4" r="2.55"/>
<circle cx="343.6" cy="334.2" r="2.55"/>
<circle cx="343.9" cy="332.1" r="2.55"/>
<circle cx="344.5" cy="333.8" r="2.55"/>
<circle cx="344.8" cy="332.8" r="2.55"/>
<circle cx="345.3" cy="331.0" r="2.55"/>
<circle cx="346.6" cy="333.4" r="2.55"/>
<circle cx="346.7" cy="332.1" r="2.55"/>
<circle cx="347.4" cy="330.6" r="2.55"/>
<circle cx="347.4" cy="333.8" r="2.55"/>
<circle cx="348.5" cy="334.0" r="2.55"/>
<circle cx="348.5" cy="334.4" r="2.55"/>
<circle cx="348.9" cy="332.8" r="2.55"/>
<circle cx="350.2" cy="333.5" r="2.55"/>
<circle cx="350.4" cy="331.7" r="2.55"/>
<circle cx="351.6" cy="332.8" r="2.55"/>
<circle cx="352.1" cy="330.7" r="2.55"/>
<circle cx="352.8" cy="332.0" r="2.55"/>
<circle cx="353.3" cy="330.7" r="2.55"/>
<circle cx="353.6" cy="332.4" r="2.55"/>
<circle cx="354.5" cy="330.8" r="2.55"/>
<circle cx="355.3" cy="334.4" r="2.55"/>
<circle cx="355.0" cy="333.4" r="2.55"/>
<circle cx="356.4" cy="332.3" r="2.55"/>
<circle cx="356.4" cy="334.2" r="2.55"/>
<circle cx="357.5" cy="331.7" r="2.55"/>
<circle cx="358.4" cy="332.6" r="2.55"/>
<circle cx="358.4" cy="334.4" r="2.55"/>
<circle cx="359.8" cy="332.4" r="2.55"/>
<circle cx="356.7" cy="331.3" r="2.55"/>
</g>
<line x1="258.18" y1="325.81" x2="359.80" y2="322.94" stroke="#151515" stroke-width="1.25"/>
<text class="t" x="309.50" y="347.60" font-size="6.8" textLength="26" lengthAdjust="spacingAndGlyphs">R² = 0.015</text>
<text class="t" x="309.50" y="355.00" font-size="6.8" textLength="42.3" lengthAdjust="spacingAndGlyphs">MAPE = 76.8%</text>
<text class="s" x="308.80" y="370.80" font-size="6.3" text-anchor="middle">Water level (Observed)</text>
<rect x="392.3" y="290.3" width="151.7" height="83.6" fill="#fff" stroke="#d9d9d9" stroke-width="1.1"/>
<line x1="437.66" y1="297.70" x2="437.66" y2="354.50" stroke="#e0e0e0" stroke-width="0.8"/>
<line x1="462.22" y1="297.70" x2="462.22" y2="354.50" stroke="#e0e0e0" stroke-width="0.8"/>
<line x1="486.78" y1="297.70" x2="486.78" y2="354.50" stroke="#e0e0e0" stroke-width="0.8"/>
<line x1="511.34" y1="297.70" x2="511.34" y2="354.50" stroke="#e0e0e0" stroke-width="0.8"/>
<line x1="535.90" y1="297.70" x2="535.90" y2="354.50" stroke="#e0e0e0" stroke-width="0.8"/>
<line x1="413.10" y1="354.50" x2="535.90" y2="354.50" stroke="#e0e0e0" stroke-width="0.8"/>
<line x1="413.10" y1="343.14" x2="535.90" y2="343.14" stroke="#e0e0e0" stroke-width="0.8"/>
<line x1="413.10" y1="331.78" x2="535.90" y2="331.78" stroke="#e0e0e0" stroke-width="0.8"/>
<line x1="413.10" y1="320.42" x2="535.90" y2="320.42" stroke="#e0e0e0" stroke-width="0.8"/>
<line x1="413.10" y1="309.06" x2="535.90" y2="309.06" stroke="#e0e0e0" stroke-width="0.8"/>
<line x1="413.10" y1="297.70" x2="535.90" y2="297.70" stroke="#e0e0e0" stroke-width="0.8"/>
<line x1="413.10" y1="297.70" x2="413.10" y2="354.50" stroke="#e0e0e0" stroke-width="0.8"/>
<text class="s" x="409.00" y="357.03" font-size="4.8" text-anchor="end">0</text>
<text class="s" x="409.00" y="345.67" font-size="4.8" text-anchor="end">0.2</text>
<text class="s" x="409.00" y="334.31" font-size="4.8" text-anchor="end">0.4</text>
<text class="s" x="409.00" y="322.95" font-size="4.8" text-anchor="end">0.6</text>
<text class="s" x="409.00" y="311.59" font-size="4.8" text-anchor="end">0.8</text>
<text class="s" x="409.00" y="300.23" font-size="4.8" text-anchor="end">1</text>
<text class="s" x="413.10" y="364.80" font-size="5.4" text-anchor="middle">0</text>
<text class="s" x="437.66" y="364.80" font-size="5.4" text-anchor="middle">0.2</text>
<text class="s" x="462.22" y="364.80" font-size="5.4" text-anchor="middle">0.4</text>
<text class="s" x="486.78" y="364.80" font-size="5.4" text-anchor="middle">0.6</text>
<text class="s" x="511.34" y="364.80" font-size="5.4" text-anchor="middle">0.8</text>
<text class="s" x="535.90" y="364.80" font-size="5.4" text-anchor="middle">1</text>
<text class="s" x="471.40" y="297.60" font-size="6.8" text-anchor="middle" stroke="#595959" stroke-width="0.18">VAR-ANN: LULC</text>
<g fill="#4472C4" stroke="#34599f" stroke-width="0.6">
<circle cx="425.9" cy="346.1" r="2.55"/>
<circle cx="425.9" cy="347.7" r="2.55"/>
<circle cx="427.5" cy="345.3" r="2.55"/>
<circle cx="429.9" cy="344.5" r="2.55"/>
<circle cx="432.2" cy="342.9" r="2.55"/>
<circle cx="434.6" cy="342.1" r="2.55"/>
<circle cx="437.0" cy="341.3" r="2.55"/>
<circle cx="439.4" cy="339.7" r="2.55"/>
<circle cx="441.7" cy="339.0" r="2.55"/>
<circle cx="444.1" cy="337.4" r="2.55"/>
<circle cx="446.5" cy="335.8" r="2.55"/>
<circle cx="450.5" cy="340.5" r="2.55"/>
<circle cx="452.0" cy="333.4" r="2.55"/>
<circle cx="454.4" cy="332.6" r="2.55"/>
<circle cx="456.8" cy="331.0" r="2.55"/>
<circle cx="459.2" cy="330.2" r="2.55"/>
<circle cx="462.3" cy="329.5" r="2.55"/>
<circle cx="464.7" cy="327.9" r="2.55"/>
<circle cx="467.1" cy="326.3" r="2.55"/>
<circle cx="469.4" cy="325.5" r="2.55"/>
<circle cx="471.8" cy="323.9" r="2.55"/>
<circle cx="474.2" cy="323.1" r="2.55"/>
<circle cx="476.6" cy="321.5" r="2.55"/>
<circle cx="477.4" cy="320.7" r="2.55"/>
<circle cx="471.5" cy="347.7" r="2.55"/>
<circle cx="475.0" cy="323.9" r="2.55"/>
<circle cx="477.4" cy="322.3" r="2.55"/>
<circle cx="479.7" cy="320.7" r="2.55"/>
<circle cx="482.1" cy="319.2" r="2.55"/>
<circle cx="482.1" cy="326.3" r="2.55"/>
<circle cx="484.5" cy="318.4" r="2.55"/>
<circle cx="486.9" cy="317.6" r="2.55"/>
<circle cx="487.7" cy="322.3" r="2.55"/>
<circle cx="489.2" cy="316.8" r="2.55"/>
<circle cx="491.6" cy="315.2" r="2.55"/>
<circle cx="493.2" cy="314.4" r="2.55"/>
<circle cx="494.8" cy="316.8" r="2.55"/>
<circle cx="496.4" cy="313.6" r="2.55"/>
<circle cx="498.7" cy="312.0" r="2.55"/>
<circle cx="500.3" cy="311.2" r="2.55"/>
<circle cx="502.7" cy="310.5" r="2.55"/>
<circle cx="504.3" cy="308.9" r="2.55"/>
<circle cx="506.7" cy="308.1" r="2.55"/>
<circle cx="508.2" cy="312.0" r="2.55"/>
<circle cx="510.6" cy="306.5" r="2.55"/>
<circle cx="512.2" cy="305.7" r="2.55"/>
<circle cx="515.4" cy="302.5" r="2.55"/>
<circle cx="517.0" cy="307.3" r="2.55"/>
<circle cx="523.3" cy="308.9" r="2.55"/>
<circle cx="524.9" cy="303.3" r="2.55"/>
<circle cx="487.7" cy="334.7" r="2.55"/>
<circle cx="493.7" cy="329.9" r="2.55"/>
<circle cx="504.3" cy="320.0" r="2.55"/>
<circle cx="513.8" cy="317.3" r="2.55"/>
<circle cx="517.0" cy="317.3" r="2.55"/>
<circle cx="518.5" cy="328.7" r="2.55"/>
</g>
<line x1="425.38" y1="347.29" x2="524.48" y2="305.20" stroke="#151515" stroke-width="1.25"/>
<text class="t" x="420.00" y="307.50" font-size="6.8" textLength="26" lengthAdjust="spacingAndGlyphs">R² = 0.853</text>
<text class="t" x="420.00" y="316.40" font-size="6.8" textLength="37.8" lengthAdjust="spacingAndGlyphs">MAPE = 9.8%</text>
<text class="s" x="475.40" y="370.80" font-size="6.3" text-anchor="middle">Water level (Observed)</text>
</svg></body></html>
